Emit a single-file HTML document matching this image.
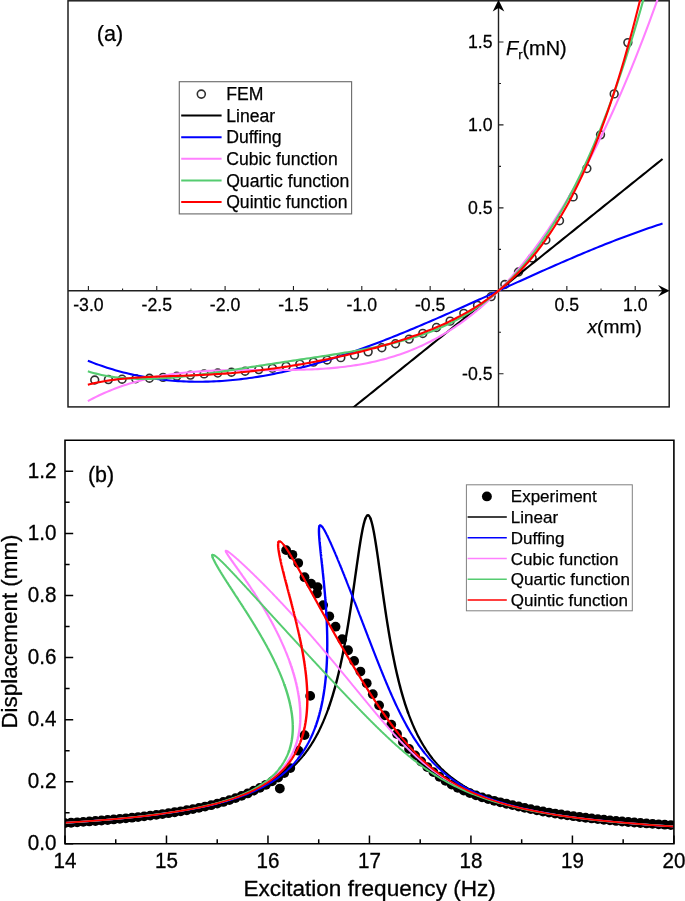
<!DOCTYPE html>
<html lang="en"><head><meta charset="utf-8"><title>Restoring force and frequency response</title>
<style>html,body{margin:0;padding:0;background:#fff}svg{display:block}</style></head>
<body>
<svg width="685" height="901" viewBox="0 0 685 901">
<rect width="685" height="901" fill="#fff"/>
<g id="panel-a">
<defs><clipPath id="clipA"><rect x="68" y="0" width="601.2" height="406.9"/></clipPath></defs>
<rect x="68" y="0.8" width="601.2" height="406.1" fill="none" stroke="#1f1f1f" stroke-width="1.5"/>
<path d="M68,290.8H666.2 M498.5,406.9V3.8" stroke="#1f1f1f" stroke-width="1.4" fill="none"/>
<path d="M669.6,290.8 l-11.5,-5.8 l4.2,5.8 l-4.2,5.8z" fill="#000"/>
<path d="M498.5,-0.2 l-5.8,11.6 l5.8,-3.3 l5.8,3.3z" fill="#000"/>
<path d="M88.4,290.8v-4.7M122.58,290.8v-2.4M156.75,290.8v-4.7M190.93,290.8v-2.4M225.1,290.8v-4.7M259.28,290.8v-2.4M293.45,290.8v-4.7M327.62,290.8v-2.4M361.8,290.8v-4.7M395.98,290.8v-2.4M430.15,290.8v-4.7M464.32,290.8v-2.4M532.67,290.8v-2.4M566.85,290.8v-4.7M601.02,290.8v-2.4M635.2,290.8v-4.7M498.5,373.75h5M498.5,332.28h2.5M498.5,249.33h2.5M498.5,207.85h5M498.5,166.38h2.5M498.5,124.9h5M498.5,83.43h2.5M498.5,41.95h5" stroke="#1f1f1f" stroke-width="1.1" fill="none"/>
<g font-family='"Liberation Sans", Arial, sans-serif' font-size="17.7" fill="#000" stroke="#000" stroke-width="0.25">
<text transform="translate(88.4,310.7) scale(1,1.06)" text-anchor="middle">-3.0</text>
<text transform="translate(156.75,310.7) scale(1,1.06)" text-anchor="middle">-2.5</text>
<text transform="translate(225.1,310.7) scale(1,1.06)" text-anchor="middle">-2.0</text>
<text transform="translate(293.45,310.7) scale(1,1.06)" text-anchor="middle">-1.5</text>
<text transform="translate(361.8,310.7) scale(1,1.06)" text-anchor="middle">-1.0</text>
<text transform="translate(430.15,310.7) scale(1,1.06)" text-anchor="middle">-0.5</text>
<text transform="translate(566.85,310.7) scale(1,1.06)" text-anchor="middle">0.5</text>
<text transform="translate(635.2,310.7) scale(1,1.06)" text-anchor="middle">1.0</text>
<text transform="translate(492.6,380.05) scale(1,1.06)" text-anchor="end">-0.5</text>
<text transform="translate(492.6,214.15) scale(1,1.06)" text-anchor="end">0.5</text>
<text transform="translate(492.6,131.2) scale(1,1.06)" text-anchor="end">1.0</text>
<text transform="translate(492.6,48.25) scale(1,1.06)" text-anchor="end">1.5</text>
</g>
<g clip-path="url(#clipA)" fill="none" stroke-linejoin="round">
<circle cx="94.74" cy="380.05" r="3.9" stroke="#303030" stroke-width="1.6"/>
<circle cx="108.41" cy="379.56" r="3.9" stroke="#303030" stroke-width="1.6"/>
<circle cx="122.08" cy="379.22" r="3.9" stroke="#303030" stroke-width="1.6"/>
<circle cx="135.75" cy="378.73" r="3.9" stroke="#303030" stroke-width="1.6"/>
<circle cx="149.42" cy="378.23" r="3.9" stroke="#303030" stroke-width="1.6"/>
<circle cx="163.08" cy="377.4" r="3.9" stroke="#303030" stroke-width="1.6"/>
<circle cx="176.75" cy="376.24" r="3.9" stroke="#303030" stroke-width="1.6"/>
<circle cx="190.43" cy="375.08" r="3.9" stroke="#303030" stroke-width="1.6"/>
<circle cx="204.1" cy="373.92" r="3.9" stroke="#303030" stroke-width="1.6"/>
<circle cx="217.77" cy="373.04" r="3.9" stroke="#303030" stroke-width="1.6"/>
<circle cx="231.44" cy="372.26" r="3.9" stroke="#303030" stroke-width="1.6"/>
<circle cx="245.11" cy="371.26" r="3.9" stroke="#303030" stroke-width="1.6"/>
<circle cx="258.78" cy="369.6" r="3.9" stroke="#303030" stroke-width="1.6"/>
<circle cx="272.45" cy="368.28" r="3.9" stroke="#303030" stroke-width="1.6"/>
<circle cx="286.12" cy="366.28" r="3.9" stroke="#303030" stroke-width="1.6"/>
<circle cx="299.79" cy="364.13" r="3.9" stroke="#303030" stroke-width="1.6"/>
<circle cx="313.46" cy="362.14" r="3.9" stroke="#303030" stroke-width="1.6"/>
<circle cx="327.12" cy="359.98" r="3.9" stroke="#303030" stroke-width="1.6"/>
<circle cx="340.8" cy="357.66" r="3.9" stroke="#303030" stroke-width="1.6"/>
<circle cx="354.47" cy="355.17" r="3.9" stroke="#303030" stroke-width="1.6"/>
<circle cx="368.13" cy="351.85" r="3.9" stroke="#303030" stroke-width="1.6"/>
<circle cx="381.81" cy="347.7" r="3.9" stroke="#303030" stroke-width="1.6"/>
<circle cx="395.48" cy="343.72" r="3.9" stroke="#303030" stroke-width="1.6"/>
<circle cx="409.14" cy="339.08" r="3.9" stroke="#303030" stroke-width="1.6"/>
<circle cx="422.81" cy="333.44" r="3.9" stroke="#303030" stroke-width="1.6"/>
<circle cx="436.49" cy="327.46" r="3.9" stroke="#303030" stroke-width="1.6"/>
<circle cx="450.16" cy="321.16" r="3.9" stroke="#303030" stroke-width="1.6"/>
<circle cx="463.82" cy="313.36" r="3.9" stroke="#303030" stroke-width="1.6"/>
<circle cx="477.5" cy="305.23" r="3.9" stroke="#303030" stroke-width="1.6"/>
<circle cx="491.17" cy="296.61" r="3.9" stroke="#303030" stroke-width="1.6"/>
<circle cx="504.83" cy="284.5" r="3.9" stroke="#303030" stroke-width="1.6"/>
<circle cx="518.5" cy="272.05" r="3.9" stroke="#303030" stroke-width="1.6"/>
<circle cx="532.17" cy="257.95" r="3.9" stroke="#303030" stroke-width="1.6"/>
<circle cx="545.85" cy="240.03" r="3.9" stroke="#303030" stroke-width="1.6"/>
<circle cx="559.51" cy="220.71" r="3.9" stroke="#303030" stroke-width="1.6"/>
<circle cx="573.18" cy="196.9" r="3.9" stroke="#303030" stroke-width="1.6"/>
<circle cx="586.86" cy="168.53" r="3.9" stroke="#303030" stroke-width="1.6"/>
<circle cx="600.52" cy="134.85" r="3.9" stroke="#303030" stroke-width="1.6"/>
<circle cx="614.19" cy="93.88" r="3.9" stroke="#303030" stroke-width="1.6"/>
<circle cx="627.87" cy="42.61" r="3.9" stroke="#303030" stroke-width="1.6"/>
<path d="M87.85,620.72L90.59,618.52L93.33,616.32L96.06,614.12L98.8,611.92L101.54,609.72L104.27,607.53L107.01,605.33L109.75,603.13L112.48,600.93L115.22,598.73L117.96,596.53L120.69,594.33L123.43,592.13L126.17,589.94L128.9,587.74L131.64,585.54L134.38,583.34L137.11,581.14L139.85,578.94L142.59,576.74L145.32,574.55L148.06,572.35L150.8,570.15L153.53,567.95L156.27,565.75L159,563.55L161.74,561.35L164.48,559.16L167.21,556.96L169.95,554.76L172.69,552.56L175.42,550.36L178.16,548.16L180.9,545.96L183.63,543.77L186.37,541.57L189.11,539.37L191.84,537.17L194.58,534.97L197.32,532.77L200.05,530.57L202.79,528.38L205.53,526.18L208.26,523.98L211,521.78L213.74,519.58L216.47,517.38L219.21,515.18L221.95,512.98L224.68,510.79L227.42,508.59L230.16,506.39L232.89,504.19L235.63,501.99L238.37,499.79L241.1,497.59L243.84,495.4L246.58,493.2L249.31,491L252.05,488.8L254.79,486.6L257.52,484.4L260.26,482.2L263,480.01L265.73,477.81L268.47,475.61L271.21,473.41L273.94,471.21L276.68,469.01L279.42,466.81L282.15,464.62L284.89,462.42L287.63,460.22L290.36,458.02L293.1,455.82L295.84,453.62L298.57,451.42L301.31,449.23L304.04,447.03L306.78,444.83L309.52,442.63L312.25,440.43L314.99,438.23L317.73,436.03L320.46,433.84L323.2,431.64L325.94,429.44L328.67,427.24L331.41,425.04L334.15,422.84L336.88,420.64L339.62,418.44L342.36,416.25L345.09,414.05L347.83,411.85L350.57,409.65L353.3,407.45L356.04,405.25L358.78,403.05L361.51,400.86L364.25,398.66L366.99,396.46L369.72,394.26L372.46,392.06L375.2,389.86L377.93,387.66L380.67,385.47L383.41,383.27L386.14,381.07L388.88,378.87L391.62,376.67L394.35,374.47L397.09,372.27L399.83,370.08L402.56,367.88L405.3,365.68L408.04,363.48L410.77,361.28L413.51,359.08L416.25,356.88L418.98,354.69L421.72,352.49L424.46,350.29L427.19,348.09L429.93,345.89L432.67,343.69L435.4,341.49L438.14,339.29L440.88,337.1L443.61,334.9L446.35,332.7L449.08,330.5L451.82,328.3L454.56,326.1L457.29,323.9L460.03,321.71L462.77,319.51L465.5,317.31L468.24,315.11L470.98,312.91L473.71,310.71L476.45,308.51L479.19,306.32L481.92,304.12L484.66,301.92L487.4,299.72L490.13,297.52L492.87,295.32L495.61,293.12L498.34,290.93L501.08,288.73L503.82,286.53L506.55,284.33L509.29,282.13L512.03,279.93L514.76,277.73L517.5,275.54L520.24,273.34L522.97,271.14L525.71,268.94L528.45,266.74L531.18,264.54L533.92,262.34L536.66,260.15L539.39,257.95L542.13,255.75L544.87,253.55L547.6,251.35L550.34,249.15L553.08,246.95L555.81,244.75L558.55,242.56L561.29,240.36L564.02,238.16L566.76,235.96L569.5,233.76L572.23,231.56L574.97,229.36L577.71,227.17L580.44,224.97L583.18,222.77L585.92,220.57L588.65,218.37L591.39,216.17L594.12,213.97L596.86,211.78L599.6,209.58L602.33,207.38L605.07,205.18L607.81,202.98L610.54,200.78L613.28,198.58L616.02,196.39L618.75,194.19L621.49,191.99L624.23,189.79L626.96,187.59L629.7,185.39L632.44,183.19L635.17,181L637.91,178.8L640.65,176.6L643.38,174.4L646.12,172.2L648.86,170L651.59,167.8L654.33,165.6L657.07,163.41L659.8,161.21L662.54,159.01" stroke="#000000" stroke-width="2.1"/>
<path d="M87.85,360.76L90.59,361.83L93.33,362.88L96.06,363.9L98.8,364.88L101.54,365.83L104.27,366.76L107.01,367.65L109.75,368.52L112.48,369.35L115.22,370.16L117.96,370.93L120.69,371.68L123.43,372.4L126.17,373.09L128.9,373.75L131.64,374.39L134.38,374.99L137.11,375.57L139.85,376.12L142.59,376.65L145.32,377.15L148.06,377.62L150.8,378.06L153.53,378.48L156.27,378.87L159,379.23L161.74,379.57L164.48,379.89L167.21,380.18L169.95,380.44L172.69,380.68L175.42,380.89L178.16,381.08L180.9,381.25L183.63,381.39L186.37,381.5L189.11,381.6L191.84,381.67L194.58,381.71L197.32,381.74L200.05,381.74L202.79,381.72L205.53,381.67L208.26,381.6L211,381.52L213.74,381.41L216.47,381.27L219.21,381.12L221.95,380.95L224.68,380.75L227.42,380.53L230.16,380.3L232.89,380.04L235.63,379.76L238.37,379.46L241.1,379.15L243.84,378.81L246.58,378.45L249.31,378.08L252.05,377.68L254.79,377.27L257.52,376.84L260.26,376.39L263,375.92L265.73,375.44L268.47,374.93L271.21,374.41L273.94,373.88L276.68,373.32L279.42,372.75L282.15,372.16L284.89,371.56L287.63,370.94L290.36,370.3L293.1,369.65L295.84,368.98L298.57,368.29L301.31,367.6L304.04,366.88L306.78,366.15L309.52,365.41L312.25,364.65L314.99,363.88L317.73,363.09L320.46,362.3L323.2,361.48L325.94,360.66L328.67,359.82L331.41,358.97L334.15,358.1L336.88,357.22L339.62,356.33L342.36,355.43L345.09,354.52L347.83,353.59L350.57,352.66L353.3,351.71L356.04,350.75L358.78,349.78L361.51,348.8L364.25,347.81L366.99,346.81L369.72,345.8L372.46,344.78L375.2,343.75L377.93,342.71L380.67,341.66L383.41,340.61L386.14,339.54L388.88,338.46L391.62,337.38L394.35,336.29L397.09,335.19L399.83,334.08L402.56,332.97L405.3,331.85L408.04,330.72L410.77,329.58L413.51,328.44L416.25,327.29L418.98,326.14L421.72,324.98L424.46,323.81L427.19,322.64L429.93,321.46L432.67,320.28L435.4,319.09L438.14,317.9L440.88,316.7L443.61,315.5L446.35,314.29L449.08,313.09L451.82,311.87L454.56,310.65L457.29,309.43L460.03,308.21L462.77,306.98L465.5,305.76L468.24,304.52L470.98,303.29L473.71,302.05L476.45,300.82L479.19,299.58L481.92,298.34L484.66,297.09L487.4,295.85L490.13,294.61L492.87,293.36L495.61,292.12L498.34,290.87L501.08,289.63L503.82,288.38L506.55,287.14L509.29,285.89L512.03,284.65L514.76,283.41L517.5,282.16L520.24,280.92L522.97,279.69L525.71,278.45L528.45,277.22L531.18,275.98L533.92,274.76L536.66,273.53L539.39,272.31L542.13,271.08L544.87,269.87L547.6,268.65L550.34,267.44L553.08,266.24L555.81,265.03L558.55,263.84L561.29,262.64L564.02,261.46L566.76,260.27L569.5,259.09L572.23,257.92L574.97,256.75L577.71,255.59L580.44,254.44L583.18,253.29L585.92,252.15L588.65,251.01L591.39,249.88L594.12,248.76L596.86,247.64L599.6,246.53L602.33,245.43L605.07,244.34L607.81,243.26L610.54,242.18L613.28,241.12L616.02,240.06L618.75,239.01L621.49,237.97L624.23,236.94L626.96,235.92L629.7,234.9L632.44,233.9L635.17,232.91L637.91,231.93L640.65,230.96L643.38,230L646.12,229.05L648.86,228.11L651.59,227.19L654.33,226.27L657.07,225.37L659.8,224.48L662.54,223.6" stroke="#0000ff" stroke-width="2.1"/>
<path d="M87.85,401.06L90.59,399.61L93.33,398.21L96.06,396.85L98.8,395.53L101.54,394.26L104.27,393.04L107.01,391.85L109.75,390.71L112.48,389.6L115.22,388.54L117.96,387.52L120.69,386.53L123.43,385.58L126.17,384.67L128.9,383.8L131.64,382.96L134.38,382.16L137.11,381.39L139.85,380.65L142.59,379.94L145.32,379.27L148.06,378.63L150.8,378.02L153.53,377.44L156.27,376.89L159,376.36L161.74,375.86L164.48,375.39L167.21,374.95L169.95,374.53L172.69,374.14L175.42,373.77L178.16,373.42L180.9,373.09L183.63,372.79L186.37,372.51L189.11,372.25L191.84,372L194.58,371.78L197.32,371.57L200.05,371.38L202.79,371.21L205.53,371.05L208.26,370.91L211,370.78L213.74,370.67L216.47,370.57L219.21,370.48L221.95,370.4L224.68,370.33L227.42,370.27L230.16,370.22L232.89,370.18L235.63,370.15L238.37,370.12L241.1,370.1L243.84,370.09L246.58,370.08L249.31,370.07L252.05,370.07L254.79,370.07L257.52,370.07L260.26,370.08L263,370.08L265.73,370.08L268.47,370.08L271.21,370.08L273.94,370.08L276.68,370.07L279.42,370.06L282.15,370.05L284.89,370.03L287.63,370L290.36,369.97L293.1,369.92L295.84,369.87L298.57,369.81L301.31,369.75L304.04,369.66L306.78,369.57L309.52,369.47L312.25,369.35L314.99,369.22L317.73,369.08L320.46,368.92L323.2,368.74L325.94,368.55L328.67,368.34L331.41,368.11L334.15,367.86L336.88,367.6L339.62,367.31L342.36,367L345.09,366.68L347.83,366.32L350.57,365.95L353.3,365.55L356.04,365.13L358.78,364.68L361.51,364.21L364.25,363.7L366.99,363.17L369.72,362.62L372.46,362.03L375.2,361.41L377.93,360.77L380.67,360.09L383.41,359.38L386.14,358.64L388.88,357.86L391.62,357.05L394.35,356.2L397.09,355.32L399.83,354.41L402.56,353.45L405.3,352.46L408.04,351.43L410.77,350.36L413.51,349.25L416.25,348.1L418.98,346.9L421.72,345.67L424.46,344.39L427.19,343.07L429.93,341.7L432.67,340.29L435.4,338.84L438.14,337.33L440.88,335.78L443.61,334.18L446.35,332.53L449.08,330.84L451.82,329.09L454.56,327.29L457.29,325.44L460.03,323.53L462.77,321.58L465.5,319.57L468.24,317.5L470.98,315.38L473.71,313.2L476.45,310.97L479.19,308.68L481.92,306.33L484.66,303.92L487.4,301.45L490.13,298.92L492.87,296.33L495.61,293.67L498.34,290.96L501.08,288.18L503.82,285.33L506.55,282.42L509.29,279.45L512.03,276.41L514.76,273.3L517.5,270.12L520.24,266.88L522.97,263.56L525.71,260.18L528.45,256.73L531.18,253.2L533.92,249.6L536.66,245.93L539.39,242.18L542.13,238.36L544.87,234.46L547.6,230.49L550.34,226.44L553.08,222.32L555.81,218.11L558.55,213.83L561.29,209.46L564.02,205.02L566.76,200.5L569.5,195.89L572.23,191.2L574.97,186.43L577.71,181.57L580.44,176.63L583.18,171.6L585.92,166.49L588.65,161.29L591.39,156L594.12,150.62L596.86,145.16L599.6,139.6L602.33,133.96L605.07,128.22L607.81,122.39L610.54,116.46L613.28,110.45L616.02,104.34L618.75,98.13L621.49,91.83L624.23,85.43L626.96,78.94L629.7,72.34L632.44,65.65L635.17,58.86L637.91,51.96L640.65,44.97L643.38,37.88L646.12,30.68L648.86,23.38L651.59,15.97L654.33,8.46L657.07,0.85L659.8,-6.87L662.54,-14.7" stroke="#ff80ff" stroke-width="2.1"/>
<path d="M87.85,371.36L90.59,372.17L93.33,372.93L96.06,373.64L98.8,374.29L101.54,374.9L104.27,375.46L107.01,375.96L109.75,376.43L112.48,376.85L115.22,377.22L117.96,377.56L120.69,377.85L123.43,378.11L126.17,378.33L128.9,378.51L131.64,378.66L134.38,378.78L137.11,378.87L139.85,378.92L142.59,378.94L145.32,378.94L148.06,378.91L150.8,378.86L153.53,378.77L156.27,378.67L159,378.54L161.74,378.39L164.48,378.23L167.21,378.04L169.95,377.83L172.69,377.61L175.42,377.36L178.16,377.11L180.9,376.84L183.63,376.55L186.37,376.25L189.11,375.94L191.84,375.62L194.58,375.29L197.32,374.94L200.05,374.59L202.79,374.23L205.53,373.86L208.26,373.48L211,373.1L213.74,372.71L216.47,372.32L219.21,371.92L221.95,371.51L224.68,371.11L227.42,370.7L230.16,370.28L232.89,369.87L235.63,369.45L238.37,369.03L241.1,368.6L243.84,368.18L246.58,367.76L249.31,367.33L252.05,366.91L254.79,366.49L257.52,366.06L260.26,365.64L263,365.22L265.73,364.79L268.47,364.37L271.21,363.95L273.94,363.53L276.68,363.11L279.42,362.7L282.15,362.28L284.89,361.87L287.63,361.45L290.36,361.04L293.1,360.63L295.84,360.22L298.57,359.81L301.31,359.4L304.04,358.99L306.78,358.58L309.52,358.17L312.25,357.75L314.99,357.34L317.73,356.93L320.46,356.52L323.2,356.1L325.94,355.68L328.67,355.26L331.41,354.84L334.15,354.41L336.88,353.98L339.62,353.55L342.36,353.11L345.09,352.66L347.83,352.21L350.57,351.75L353.3,351.28L356.04,350.81L358.78,350.33L361.51,349.83L364.25,349.33L366.99,348.82L369.72,348.29L372.46,347.76L375.2,347.21L377.93,346.64L380.67,346.07L383.41,345.47L386.14,344.86L388.88,344.23L391.62,343.58L394.35,342.92L397.09,342.23L399.83,341.52L402.56,340.79L405.3,340.03L408.04,339.25L410.77,338.44L413.51,337.61L416.25,336.75L418.98,335.86L421.72,334.94L424.46,333.98L427.19,333L429.93,331.97L432.67,330.92L435.4,329.82L438.14,328.69L440.88,327.51L443.61,326.3L446.35,325.04L449.08,323.74L451.82,322.39L454.56,321L457.29,319.56L460.03,318.06L462.77,316.52L465.5,314.92L468.24,313.26L470.98,311.55L473.71,309.78L476.45,307.95L479.19,306.06L481.92,304.11L484.66,302.09L487.4,300L490.13,297.84L492.87,295.61L495.61,293.31L498.34,290.94L501.08,288.49L503.82,285.96L506.55,283.34L509.29,280.65L512.03,277.87L514.76,275.01L517.5,272.06L520.24,269.01L522.97,265.88L525.71,262.65L528.45,259.32L531.18,255.89L533.92,252.36L536.66,248.73L539.39,244.99L542.13,241.14L544.87,237.19L547.6,233.11L550.34,228.93L553.08,224.63L555.81,220.2L558.55,215.66L561.29,210.99L564.02,206.19L566.76,201.26L569.5,196.21L572.23,191.01L574.97,185.68L577.71,180.21L580.44,174.59L583.18,168.83L585.92,162.93L588.65,156.87L591.39,150.66L594.12,144.29L596.86,137.77L599.6,131.08L602.33,124.23L605.07,117.21L607.81,110.02L610.54,102.66L613.28,95.12L616.02,87.4L618.75,79.51L621.49,71.42L624.23,63.15L626.96,54.69L629.7,46.04L632.44,37.19L635.17,28.14L637.91,18.88L640.65,9.42L643.38,-0.25L646.12,-10.13L648.86,-20.23L651.59,-30.54L654.33,-41.08L657.07,-51.85L659.8,-62.84L662.54,-74.06" stroke="#55cc70" stroke-width="2.1"/>
<path d="M87.85,384.7L90.59,384.01L93.33,383.36L96.06,382.76L98.8,382.2L101.54,381.68L104.27,381.2L107.01,380.75L109.75,380.34L112.48,379.96L115.22,379.6L117.96,379.28L120.69,378.97L123.43,378.7L126.17,378.44L128.9,378.21L131.64,377.99L134.38,377.79L137.11,377.61L139.85,377.44L142.59,377.28L145.32,377.14L148.06,377L150.8,376.88L153.53,376.76L156.27,376.65L159,376.54L161.74,376.44L164.48,376.35L167.21,376.25L169.95,376.16L172.69,376.07L175.42,375.97L178.16,375.88L180.9,375.79L183.63,375.69L186.37,375.59L189.11,375.49L191.84,375.38L194.58,375.27L197.32,375.15L200.05,375.03L202.79,374.9L205.53,374.76L208.26,374.62L211,374.47L213.74,374.31L216.47,374.15L219.21,373.97L221.95,373.79L224.68,373.6L227.42,373.4L230.16,373.18L232.89,372.96L235.63,372.73L238.37,372.49L241.1,372.24L243.84,371.98L246.58,371.71L249.31,371.43L252.05,371.14L254.79,370.84L257.52,370.53L260.26,370.21L263,369.88L265.73,369.54L268.47,369.19L271.21,368.82L273.94,368.45L276.68,368.07L279.42,367.67L282.15,367.27L284.89,366.86L287.63,366.44L290.36,366L293.1,365.56L295.84,365.11L298.57,364.65L301.31,364.17L304.04,363.69L306.78,363.2L309.52,362.7L312.25,362.19L314.99,361.67L317.73,361.15L320.46,360.61L323.2,360.06L325.94,359.51L328.67,358.94L331.41,358.37L334.15,357.78L336.88,357.19L339.62,356.59L342.36,355.98L345.09,355.36L347.83,354.73L350.57,354.09L353.3,353.44L356.04,352.78L358.78,352.11L361.51,351.43L364.25,350.74L366.99,350.04L369.72,349.32L372.46,348.6L375.2,347.87L377.93,347.12L380.67,346.36L383.41,345.59L386.14,344.8L388.88,344L391.62,343.19L394.35,342.36L397.09,341.52L399.83,340.66L402.56,339.79L405.3,338.9L408.04,337.99L410.77,337.06L413.51,336.11L416.25,335.15L418.98,334.16L421.72,333.15L424.46,332.12L427.19,331.06L429.93,329.98L432.67,328.88L435.4,327.74L438.14,326.58L440.88,325.39L443.61,324.17L446.35,322.92L449.08,321.63L451.82,320.31L454.56,318.95L457.29,317.56L460.03,316.13L462.77,314.65L465.5,313.14L468.24,311.58L470.98,309.97L473.71,308.31L476.45,306.61L479.19,304.85L481.92,303.04L484.66,301.18L487.4,299.25L490.13,297.27L492.87,295.22L495.61,293.11L498.34,290.93L501.08,288.68L503.82,286.35L506.55,283.96L509.29,281.48L512.03,278.93L514.76,276.29L517.5,273.56L520.24,270.74L522.97,267.84L525.71,264.83L528.45,261.73L531.18,258.53L533.92,255.22L536.66,251.8L539.39,248.26L542.13,244.62L544.87,240.85L547.6,236.96L550.34,232.94L553.08,228.78L555.81,224.5L558.55,220.07L561.29,215.5L564.02,210.78L566.76,205.91L569.5,200.88L572.23,195.68L574.97,190.33L577.71,184.8L580.44,179.09L583.18,173.2L585.92,167.13L588.65,160.86L591.39,154.4L594.12,147.74L596.86,140.86L599.6,133.78L602.33,126.47L605.07,118.94L607.81,111.19L610.54,103.19L613.28,94.95L616.02,86.46L618.75,77.72L621.49,68.72L624.23,59.44L626.96,49.9L629.7,40.07L632.44,29.95L635.17,19.54L637.91,8.83L640.65,-2.2L643.38,-13.54L646.12,-25.2L648.86,-37.2L651.59,-49.54L654.33,-62.22L657.07,-75.26L659.8,-88.66L662.54,-102.44" stroke="#ff0000" stroke-width="2.1"/>
</g>
<g font-family='"Liberation Sans", Arial, sans-serif' fill="#000" stroke="#000" stroke-width="0.25">
<text x="96.8" y="40.8" font-size="21.6">(a)</text>
<text x="506" y="54.5" font-size="19.9"><tspan font-style="italic">F</tspan><tspan font-size="13" dy="4">r</tspan><tspan dy="-4">(mN)</tspan></text>
<text x="587.5" y="333.1" font-size="19.2"><tspan font-style="italic">x</tspan>(mm)</text>
</g>
<rect x="179.3" y="81.7" width="172.3" height="132.2" fill="#fff" stroke="#6e6e6e" stroke-width="1.15"/>
<g font-family='"Liberation Sans", Arial, sans-serif' font-size="17.6" fill="#000" stroke="#000" stroke-width="0.25">
<circle cx="201.3" cy="94.1" r="4.0" fill="none" stroke="#303030" stroke-width="1.6"/>
<text x="226.2" y="100.1">FEM</text>
<path d="M181.2,115.6H221.6" stroke="#000000" stroke-width="2"/>
<text x="226.2" y="121.8">Linear</text>
<path d="M181.2,137.2H221.6" stroke="#0000ff" stroke-width="2"/>
<text x="226.2" y="143.4">Duffing</text>
<path d="M181.2,158.8H221.6" stroke="#ff80ff" stroke-width="2"/>
<text x="226.2" y="165">Cubic function</text>
<path d="M181.2,180.4H221.6" stroke="#55cc70" stroke-width="2"/>
<text x="226.2" y="186.6">Quartic function</text>
<path d="M181.2,202H221.6" stroke="#ff0000" stroke-width="2"/>
<text x="226.2" y="208.2">Quintic function</text>
</g>
</g>
<g id="panel-b">
<defs><clipPath id="clipB"><rect x="65" y="440.3" width="608.9" height="403.5"/></clipPath></defs>
<g clip-path="url(#clipB)">
<g fill="#000">
<circle cx="65" cy="823.12" r="4.9"/>
<circle cx="71.09" cy="822.73" r="4.9"/>
<circle cx="77.18" cy="822.32" r="4.9"/>
<circle cx="83.27" cy="821.9" r="4.9"/>
<circle cx="89.36" cy="821.46" r="4.9"/>
<circle cx="95.45" cy="820.99" r="4.9"/>
<circle cx="101.53" cy="820.51" r="4.9"/>
<circle cx="107.62" cy="820" r="4.9"/>
<circle cx="113.71" cy="819.47" r="4.9"/>
<circle cx="119.8" cy="818.91" r="4.9"/>
<circle cx="125.89" cy="818.32" r="4.9"/>
<circle cx="131.98" cy="817.71" r="4.9"/>
<circle cx="138.07" cy="817.06" r="4.9"/>
<circle cx="144.16" cy="816.37" r="4.9"/>
<circle cx="150.25" cy="815.64" r="4.9"/>
<circle cx="156.34" cy="814.87" r="4.9"/>
<circle cx="162.42" cy="814.06" r="4.9"/>
<circle cx="168.51" cy="813.19" r="4.9"/>
<circle cx="174.6" cy="812.27" r="4.9"/>
<circle cx="180.69" cy="811.28" r="4.9"/>
<circle cx="186.78" cy="810.23" r="4.9"/>
<circle cx="192.87" cy="809.1" r="4.9"/>
<circle cx="198.96" cy="807.89" r="4.9"/>
<circle cx="205.05" cy="806.58" r="4.9"/>
<circle cx="211.14" cy="805.17" r="4.9"/>
<circle cx="217.23" cy="803.63" r="4.9"/>
<circle cx="223.31" cy="801.96" r="4.9"/>
<circle cx="229.4" cy="800.13" r="4.9"/>
<circle cx="235.49" cy="798.12" r="4.9"/>
<circle cx="241.58" cy="795.89" r="4.9"/>
<circle cx="247.67" cy="793.42" r="4.9"/>
<circle cx="253.76" cy="790.64" r="4.9"/>
<circle cx="259.85" cy="787.89" r="4.9"/>
<circle cx="265.94" cy="784.83" r="4.9"/>
<circle cx="272.03" cy="781.4" r="4.9"/>
<circle cx="278.12" cy="777.52" r="4.9"/>
<circle cx="284.2" cy="773.12" r="4.9"/>
<circle cx="290.29" cy="768.08" r="4.9"/>
<circle cx="279.84" cy="788.55" r="4.9"/>
<circle cx="298.41" cy="750.68" r="4.9"/>
<circle cx="304.5" cy="735.16" r="4.9"/>
<circle cx="310.18" cy="695.89" r="4.9"/>
<circle cx="286.13" cy="550.16" r="4.9"/>
<circle cx="292.42" cy="554.82" r="4.9"/>
<circle cx="298.21" cy="563.04" r="4.9"/>
<circle cx="304.5" cy="577.17" r="4.9"/>
<circle cx="311.1" cy="583.68" r="4.9"/>
<circle cx="317.59" cy="587.1" r="4.9"/>
<circle cx="316.88" cy="593.46" r="4.9"/>
<circle cx="323.17" cy="605.1" r="4.9"/>
<circle cx="329.26" cy="616.28" r="4.9"/>
<circle cx="335.55" cy="626.68" r="4.9"/>
<circle cx="342.15" cy="639.25" r="4.9"/>
<circle cx="348.04" cy="650.27" r="4.9"/>
<circle cx="354.13" cy="660.97" r="4.9"/>
<circle cx="360.42" cy="671.53" r="4.9"/>
<circle cx="366.71" cy="683.32" r="4.9"/>
<circle cx="372.8" cy="694.19" r="4.9"/>
<circle cx="379.09" cy="705.36" r="4.9"/>
<circle cx="384.88" cy="715.29" r="4.9"/>
<circle cx="391.27" cy="724.61" r="4.9"/>
<circle cx="397.05" cy="734.01" r="4.9"/>
<circle cx="402.94" cy="741.91" r="4.9"/>
<circle cx="409.03" cy="748.95" r="4.9"/>
<circle cx="415.12" cy="755.48" r="4.9"/>
<circle cx="421.21" cy="761.51" r="4.9"/>
<circle cx="427.3" cy="767.05" r="4.9"/>
<circle cx="433.38" cy="772.11" r="4.9"/>
<circle cx="439.47" cy="776.73" r="4.9"/>
<circle cx="445.56" cy="780.89" r="4.9"/>
<circle cx="451.65" cy="784.56" r="4.9"/>
<circle cx="457.74" cy="787.79" r="4.9"/>
<circle cx="463.83" cy="790.64" r="4.9"/>
<circle cx="469.92" cy="793.15" r="4.9"/>
<circle cx="476.01" cy="795.38" r="4.9"/>
<circle cx="482.1" cy="797.36" r="4.9"/>
<circle cx="488.19" cy="799.15" r="4.9"/>
<circle cx="494.27" cy="800.78" r="4.9"/>
<circle cx="500.36" cy="802.3" r="4.9"/>
<circle cx="506.45" cy="803.73" r="4.9"/>
<circle cx="512.54" cy="805.12" r="4.9"/>
<circle cx="518.63" cy="806.49" r="4.9"/>
<circle cx="524.72" cy="807.87" r="4.9"/>
<circle cx="530.81" cy="809.16" r="4.9"/>
<circle cx="536.9" cy="810.37" r="4.9"/>
<circle cx="542.99" cy="811.51" r="4.9"/>
<circle cx="549.08" cy="812.57" r="4.9"/>
<circle cx="555.16" cy="813.56" r="4.9"/>
<circle cx="561.25" cy="814.5" r="4.9"/>
<circle cx="567.34" cy="815.38" r="4.9"/>
<circle cx="573.43" cy="816.21" r="4.9"/>
<circle cx="579.52" cy="817" r="4.9"/>
<circle cx="585.61" cy="817.74" r="4.9"/>
<circle cx="591.7" cy="818.45" r="4.9"/>
<circle cx="597.79" cy="819.12" r="4.9"/>
<circle cx="603.88" cy="819.75" r="4.9"/>
<circle cx="609.97" cy="820.36" r="4.9"/>
<circle cx="616.05" cy="820.93" r="4.9"/>
<circle cx="622.14" cy="821.48" r="4.9"/>
<circle cx="628.23" cy="822" r="4.9"/>
<circle cx="634.32" cy="822.5" r="4.9"/>
<circle cx="640.41" cy="822.98" r="4.9"/>
<circle cx="646.5" cy="823.44" r="4.9"/>
<circle cx="652.59" cy="823.87" r="4.9"/>
<circle cx="658.68" cy="824.29" r="4.9"/>
<circle cx="664.77" cy="824.7" r="4.9"/>
<circle cx="670.86" cy="825.08" r="4.9"/>
</g>
<g fill="none" stroke-linejoin="round" stroke-linecap="round">
<path d="M65,822.84L65.51,822.8L66.01,822.77L66.52,822.74L67.03,822.71L67.54,822.68L68.04,822.64L68.55,822.61L69.06,822.58L69.57,822.55L70.07,822.51L70.58,822.48L71.09,822.45L71.6,822.42L72.1,822.38L72.61,822.35L73.12,822.32L73.63,822.28L74.13,822.25L74.64,822.22L75.15,822.18L75.66,822.15L76.16,822.11L76.67,822.08L77.18,822.05L77.69,822.01L78.19,821.98L78.7,821.94L79.21,821.91L79.72,821.87L80.22,821.84L80.73,821.8L81.24,821.77L81.74,821.73L82.25,821.7L82.76,821.66L83.27,821.62L83.77,821.59L84.28,821.55L84.79,821.52L85.3,821.48L85.8,821.44L86.31,821.41L86.82,821.37L87.33,821.33L87.83,821.3L88.34,821.26L88.85,821.22L89.36,821.19L89.86,821.15L90.37,821.11L90.88,821.07L91.39,821.04L91.89,821L92.4,820.96L92.91,820.92L93.42,820.88L93.92,820.84L94.43,820.8L94.94,820.77L95.45,820.73L95.95,820.69L96.46,820.65L96.97,820.61L97.47,820.57L97.98,820.53L98.49,820.49L99,820.45L99.5,820.41L100.01,820.37L100.52,820.33L101.03,820.29L101.53,820.25L102.04,820.21L102.55,820.17L103.06,820.12L103.56,820.08L104.07,820.04L104.58,820L105.09,819.96L105.59,819.92L106.1,819.87L106.61,819.83L107.12,819.79L107.62,819.75L108.13,819.7L108.64,819.66L109.15,819.62L109.65,819.57L110.16,819.53L110.67,819.49L111.17,819.44L111.68,819.4L112.19,819.35L112.7,819.31L113.2,819.26L113.71,819.22L114.22,819.17L114.73,819.13L115.23,819.08L115.74,819.04L116.25,818.99L116.76,818.95L117.26,818.9L117.77,818.85L118.28,818.81L118.79,818.76L119.29,818.71L119.8,818.67L120.31,818.62L120.82,818.57L121.32,818.52L121.83,818.48L122.34,818.43L122.85,818.38L123.35,818.33L123.86,818.28L124.37,818.23L124.88,818.19L125.38,818.14L125.89,818.09L126.4,818.04L126.9,817.99L127.41,817.94L127.92,817.89L128.43,817.84L128.93,817.79L129.44,817.74L129.95,817.68L130.46,817.63L130.96,817.58L131.47,817.53L131.98,817.48L132.49,817.43L132.99,817.37L133.5,817.32L134.01,817.27L134.52,817.21L135.02,817.16L135.53,817.11L136.04,817.05L136.55,817L137.05,816.95L137.56,816.89L138.07,816.84L138.58,816.78L139.08,816.73L139.59,816.67L140.1,816.61L140.61,816.56L141.11,816.5L141.62,816.45L142.13,816.39L142.63,816.33L143.14,816.27L143.65,816.22L144.16,816.16L144.66,816.1L145.17,816.04L145.68,815.98L146.19,815.93L146.69,815.87L147.2,815.81L147.71,815.75L148.22,815.69L148.72,815.63L149.23,815.57L149.74,815.51L150.25,815.44L150.75,815.38L151.26,815.32L151.77,815.26L152.28,815.2L152.78,815.14L153.29,815.07L153.8,815.01L154.31,814.95L154.81,814.88L155.32,814.82L155.83,814.75L156.34,814.69L156.84,814.62L157.35,814.56L157.86,814.49L158.36,814.43L158.87,814.36L159.38,814.3L159.89,814.23L160.39,814.16L160.9,814.09L161.41,814.03L161.92,813.96L162.42,813.89L162.93,813.82L163.44,813.75L163.95,813.68L164.45,813.61L164.96,813.54L165.47,813.47L165.98,813.4L166.48,813.33L166.99,813.26L167.5,813.19L168.01,813.11L168.51,813.04L169.02,812.97L169.53,812.9L170.04,812.82L170.54,812.75L171.05,812.67L171.56,812.6L172.06,812.52L172.57,812.45L173.08,812.37L173.59,812.3L174.09,812.22L174.6,812.14L175.11,812.06L175.62,811.99L176.12,811.91L176.63,811.83L177.14,811.75L177.65,811.67L178.15,811.59L178.66,811.51L179.17,811.43L179.68,811.35L180.18,811.26L180.69,811.18L181.2,811.1L181.71,811.02L182.21,810.93L182.72,810.85L183.23,810.76L183.74,810.68L184.24,810.59L184.75,810.51L185.26,810.42L185.77,810.33L186.27,810.25L186.78,810.16L187.29,810.07L187.79,809.98L188.3,809.89L188.81,809.8L189.32,809.71L189.82,809.62L190.33,809.53L190.84,809.44L191.35,809.35L191.85,809.25L192.36,809.16L192.87,809.07L193.38,808.97L193.88,808.88L194.39,808.78L194.9,808.69L195.41,808.59L195.91,808.49L196.42,808.39L196.93,808.3L197.44,808.2L197.94,808.1L198.45,808L198.96,807.9L199.47,807.79L199.97,807.69L200.48,807.59L200.99,807.49L201.5,807.38L202,807.28L202.51,807.17L203.02,807.07L203.52,806.96L204.03,806.85L204.54,806.75L205.05,806.64L205.55,806.53L206.06,806.42L206.57,806.31L207.08,806.2L207.58,806.09L208.09,805.98L208.6,805.86L209.11,805.75L209.61,805.63L210.12,805.52L210.63,805.4L211.14,805.29L211.64,805.17L212.15,805.05L212.66,804.93L213.17,804.81L213.67,804.69L214.18,804.57L214.69,804.45L215.2,804.32L215.7,804.2L216.21,804.08L216.72,803.95L217.22,803.83L217.73,803.7L218.24,803.57L218.75,803.44L219.25,803.31L219.76,803.18L220.27,803.05L220.78,802.92L221.28,802.79L221.79,802.65L222.3,802.52L222.81,802.38L223.31,802.24L223.82,802.11L224.33,801.97L224.84,801.83L225.34,801.69L225.85,801.55L226.36,801.4L226.87,801.26L227.37,801.12L227.88,800.97L228.39,800.82L228.9,800.68L229.4,800.53L229.91,800.38L230.42,800.23L230.93,800.08L231.43,799.92L231.94,799.77L232.45,799.61L232.95,799.46L233.46,799.3L233.97,799.14L234.48,798.98L234.98,798.82L235.49,798.66L236,798.49L236.51,798.33L237.01,798.16L237.52,798L238.03,797.83L238.54,797.66L239.04,797.49L239.55,797.31L240.06,797.14L240.57,796.96L241.07,796.79L241.58,796.61L242.09,796.43L242.6,796.25L243.1,796.07L243.61,795.89L244.12,795.7L244.63,795.51L245.13,795.33L245.64,795.14L246.15,794.95L246.66,794.75L247.16,794.56L247.67,794.36L248.18,794.17L248.68,793.97L249.19,793.77L249.7,793.56L250.21,793.36L250.71,793.15L251.22,792.95L251.73,792.74L252.24,792.53L252.74,792.31L253.25,792.1L253.76,791.88L254.27,791.67L254.77,791.45L255.28,791.22L255.79,791L256.3,790.77L256.8,790.55L257.31,790.32L257.82,790.08L258.33,789.85L258.83,789.61L259.34,789.38L259.85,789.14L260.36,788.89L260.86,788.65L261.37,788.4L261.88,788.15L262.39,787.9L262.89,787.65L263.4,787.39L263.91,787.13L264.41,786.87L264.92,786.61L265.43,786.34L265.94,786.07L266.44,785.8L266.95,785.53L267.46,785.25L267.97,784.97L268.47,784.69L268.98,784.41L269.49,784.12L270,783.83L270.5,783.54L271.01,783.24L271.52,782.94L272.03,782.64L272.53,782.34L273.04,782.03L273.55,781.72L274.06,781.4" stroke="#000000" stroke-width="1.75"/>
<path d="M274.06,781.4L274.56,781.08L275.07,780.76L275.58,780.44L276.09,780.11L276.59,779.78L277.1,779.45L277.61,779.11L278.12,778.77L278.62,778.42L279.13,778.07L279.64,777.72L280.14,777.36L280.65,777L281.16,776.64L281.67,776.27L282.17,775.9L282.68,775.52L283.19,775.14L283.7,774.75L284.2,774.36L284.71,773.97L285.22,773.57L285.73,773.17L286.23,772.76L286.74,772.35L287.25,771.93L287.76,771.51L288.26,771.08L288.77,770.65L289.28,770.21L289.79,769.77L290.29,769.32L290.8,768.86L291.31,768.4L291.82,767.94L292.32,767.47L292.83,766.99L293.34,766.51L293.84,766.02L294.35,765.53L294.86,765.03L295.37,764.52L295.87,764L296.38,763.48L296.89,762.96L297.4,762.42L297.9,761.88L298.41,761.33L298.92,760.77L299.43,760.21L299.93,759.64L300.44,759.06L300.95,758.47L301.46,757.88L301.96,757.28L302.47,756.67L302.98,756.05L303.49,755.42L303.99,754.78" stroke="#000000" stroke-width="1.95"/>
<path d="M303.99,754.78L304.5,754.13L305.01,753.48L305.52,752.81L306.02,752.14L306.53,751.45L307.04,750.76L307.55,750.05L308.05,749.34L308.56,748.61L309.07,747.87L309.57,747.12L310.08,746.36L310.59,745.59L311.1,744.81L311.6,744.01L312.11,743.2L312.62,742.38L313.13,741.55L313.63,740.7L314.14,739.84L314.65,738.96L315.16,738.07L315.66,737.17L316.17,736.25L316.68,735.32L317.19,734.37L317.69,733.4L318.2,732.42L318.71,731.42L319.22,730.4L319.72,729.37L320.23,728.31L320.74,727.24L321.25,726.15L321.75,725.05L322.26,723.92L322.77,722.77L323.28,721.6L323.78,720.41L324.29,719.19L324.8,717.96L325.3,716.7L325.81,715.42L326.32,714.11L326.83,712.78L327.33,711.43L327.84,710.04L328.35,708.64" stroke="#000000" stroke-width="2.2"/>
<path d="M328.35,708.64L328.86,707.2L329.36,705.74L329.87,704.24L330.38,702.72L330.89,701.17L331.39,699.59L331.9,697.97L332.41,696.32L332.92,694.64L333.42,692.93L333.93,691.18L334.44,689.39L334.95,687.57L335.45,685.71L335.96,683.81L336.47,681.87L336.98,679.89L337.48,677.87L337.99,675.81L338.5,673.71L339,671.56L339.51,669.36L340.02,667.12L340.53,664.84L341.03,662.5L341.54,660.12L342.05,657.69L342.56,655.2L343.06,652.67L343.57,650.08L344.08,647.44L344.59,644.75L345.09,642.01L345.6,639.21L346.11,636.35L346.62,633.45L347.12,630.49L347.63,627.47L348.14,624.4L348.65,621.28L349.15,618.1L349.66,614.87L350.17,611.6L350.68,608.27L351.18,604.9L351.69,601.49L352.2,598.04L352.71,594.54L353.21,591.02L353.72,587.47L354.23,583.89L354.73,580.3L355.24,576.7L355.75,573.09L356.26,569.49L356.76,565.9L357.27,562.33L357.78,558.8L358.29,555.31L358.79,551.87L359.3,548.51L359.81,545.22L360.32,542.03L360.82,538.95L361.33,536L361.84,533.18L362.35,530.51L362.85,528.02L363.36,525.71L363.87,523.59L364.38,521.69L364.88,520.01L365.39,518.57" stroke="#000000" stroke-width="2.42"/>
<path d="M365.39,518.57L365.9,517.37L366.41,516.42L366.91,515.74" stroke="#000000" stroke-width="2.2"/>
<path d="M366.91,515.74L367.42,515.32" stroke="#000000" stroke-width="1.95"/>
<path d="M367.42,515.32L367.93,515.18L368.44,515.3" stroke="#000000" stroke-width="1.75"/>
<path d="M368.44,515.3L368.94,515.7" stroke="#000000" stroke-width="1.95"/>
<path d="M368.94,515.7L369.45,516.36L369.96,517.28L370.46,518.46" stroke="#000000" stroke-width="2.2"/>
<path d="M370.46,518.46L370.97,519.89L371.48,521.56L371.99,523.46L372.49,525.57L373,527.88L373.51,530.38L374.02,533.06L374.52,535.89L375.03,538.86L375.54,541.97L376.05,545.19L376.55,548.5L377.06,551.9L377.57,555.38L378.08,558.91L378.58,562.49L379.09,566.1L379.6,569.74L380.11,573.39L380.61,577.05L381.12,580.71L381.63,584.36L382.14,587.99L382.64,591.6L383.15,595.18L383.66,598.72L384.17,602.23L384.67,605.7L385.18,609.13L385.69,612.51L386.19,615.84L386.7,619.12L387.21,622.35L387.72,625.53L388.22,628.65L388.73,631.72L389.24,634.73L389.75,637.68L390.25,640.59L390.76,643.43L391.27,646.22L391.78,648.96L392.28,651.64L392.79,654.27L393.3,656.85L393.81,659.37L394.31,661.84L394.82,664.26L395.33,666.64L395.84,668.96L396.34,671.23L396.85,673.46L397.36,675.64L397.87,677.78L398.37,679.88L398.88,681.93L399.39,683.93L399.9,685.9L400.4,687.83L400.91,689.72L401.42,691.56L401.92,693.38L402.43,695.15L402.94,696.89L403.45,698.6L403.95,700.27L404.46,701.9L404.97,703.51L405.48,705.08L405.98,706.62L406.49,708.14L407,709.62L407.51,711.08L408.01,712.5" stroke="#000000" stroke-width="2.42"/>
<path d="M408.01,712.5L408.52,713.9L409.03,715.28L409.54,716.62L410.04,717.95L410.55,719.25L411.06,720.52L411.57,721.77L412.07,723L412.58,724.2L413.09,725.39L413.6,726.55L414.1,727.69L414.61,728.81L415.12,729.92L415.62,731L416.13,732.06L416.64,733.11L417.15,734.14L417.65,735.15L418.16,736.14L418.67,737.12L419.18,738.08L419.68,739.02L420.19,739.95L420.7,740.87L421.21,741.77L421.71,742.65L422.22,743.52L422.73,744.38L423.24,745.22L423.74,746.05L424.25,746.87L424.76,747.67L425.27,748.46L425.77,749.24L426.28,750.01L426.79,750.77L427.3,751.51L427.8,752.24L428.31,752.97L428.82,753.68L429.33,754.38L429.83,755.07L430.34,755.75L430.85,756.43L431.35,757.09L431.86,757.74" stroke="#000000" stroke-width="2.2"/>
<path d="M431.86,757.74L432.37,758.38L432.88,759.02L433.38,759.64L433.89,760.26L434.4,760.87L434.91,761.47L435.41,762.06L435.92,762.64L436.43,763.22L436.94,763.79L437.44,764.35L437.95,764.9L438.46,765.45L438.97,765.99L439.47,766.52L439.98,767.04L440.49,767.56L441,768.07L441.5,768.58L442.01,769.08L442.52,769.57L443.03,770.06L443.53,770.54L444.04,771.01L444.55,771.48L445.06,771.94L445.56,772.4L446.07,772.85L446.58,773.3L447.08,773.74L447.59,774.18L448.1,774.61L448.61,775.03L449.11,775.45L449.62,775.87L450.13,776.28L450.64,776.69L451.14,777.09L451.65,777.49L452.16,777.88L452.67,778.27L453.17,778.65L453.68,779.03L454.19,779.4L454.7,779.78L455.2,780.14L455.71,780.51L456.22,780.87L456.73,781.22L457.23,781.57L457.74,781.92L458.25,782.26L458.76,782.6L459.26,782.94L459.77,783.27L460.28,783.6L460.78,783.93L461.29,784.25L461.8,784.57" stroke="#000000" stroke-width="1.95"/>
<path d="M461.8,784.57L462.31,784.89L462.81,785.2L463.32,785.51L463.83,785.82L464.34,786.12L464.84,786.42L465.35,786.72L465.86,787.02L466.37,787.31L466.87,787.6L467.38,787.88L467.89,788.17L468.4,788.45L468.9,788.73L469.41,789L469.92,789.27L470.43,789.54L470.93,789.81L471.44,790.08L471.95,790.34L472.46,790.6L472.96,790.86L473.47,791.11L473.98,791.37L474.49,791.62L474.99,791.87L475.5,792.11L476.01,792.36L476.51,792.6L477.02,792.84L477.53,793.07L478.04,793.31L478.54,793.54L479.05,793.77L479.56,794L480.07,794.23L480.57,794.45L481.08,794.68L481.59,794.9L482.1,795.12L482.6,795.34L483.11,795.55L483.62,795.77L484.13,795.98L484.63,796.19L485.14,796.4L485.65,796.6L486.16,796.81L486.66,797.01L487.17,797.21L487.68,797.41L488.19,797.61L488.69,797.81L489.2,798L489.71,798.2L490.22,798.39L490.72,798.58L491.23,798.77L491.74,798.96L492.24,799.14L492.75,799.33L493.26,799.51L493.77,799.69L494.27,799.87L494.78,800.05L495.29,800.23L495.8,800.4L496.3,800.58L496.81,800.75L497.32,800.92L497.83,801.09L498.33,801.26L498.84,801.43L499.35,801.6L499.86,801.76L500.36,801.93L500.87,802.09L501.38,802.25L501.89,802.41L502.39,802.57L502.9,802.73L503.41,802.89L503.92,803.04L504.42,803.2L504.93,803.35L505.44,803.5L505.95,803.66L506.45,803.81L506.96,803.96L507.47,804.1L507.97,804.25L508.48,804.4L508.99,804.54L509.5,804.69L510,804.83L510.51,804.97L511.02,805.11L511.53,805.25L512.03,805.39L512.54,805.53L513.05,805.67L513.56,805.81L514.06,805.94L514.57,806.08L515.08,806.21L515.59,806.34L516.09,806.47L516.6,806.6L517.11,806.73L517.62,806.86L518.12,806.99L518.63,807.12L519.14,807.25L519.65,807.37L520.15,807.5L520.66,807.62L521.17,807.75L521.67,807.87L522.18,807.99L522.69,808.11L523.2,808.23L523.7,808.35L524.21,808.47L524.72,808.59L525.23,808.7L525.73,808.82L526.24,808.94L526.75,809.05L527.26,809.17L527.76,809.28L528.27,809.39L528.78,809.5L529.29,809.62L529.79,809.73L530.3,809.84L530.81,809.95L531.32,810.05L531.82,810.16L532.33,810.27L532.84,810.38L533.35,810.48L533.85,810.59L534.36,810.69L534.87,810.8L535.38,810.9L535.88,811L536.39,811.11L536.9,811.21L537.4,811.31L537.91,811.41L538.42,811.51L538.93,811.61L539.43,811.71L539.94,811.81L540.45,811.9L540.96,812L541.46,812.1L541.97,812.19L542.48,812.29L542.99,812.38L543.49,812.48L544,812.57L544.51,812.66L545.02,812.76L545.52,812.85L546.03,812.94L546.54,813.03L547.05,813.12L547.55,813.21L548.06,813.3L548.57,813.39L549.08,813.48L549.58,813.57L550.09,813.66L550.6,813.74L551.11,813.83L551.61,813.92L552.12,814L552.63,814.09L553.13,814.17L553.64,814.26L554.15,814.34L554.66,814.42L555.16,814.51L555.67,814.59L556.18,814.67L556.69,814.75L557.19,814.84L557.7,814.92L558.21,815L558.72,815.08L559.22,815.16L559.73,815.24L560.24,815.31L560.75,815.39L561.25,815.47L561.76,815.55L562.27,815.63L562.78,815.7L563.28,815.78L563.79,815.85L564.3,815.93L564.81,816.01L565.31,816.08L565.82,816.15L566.33,816.23L566.84,816.3L567.34,816.38L567.85,816.45L568.36,816.52L568.86,816.59L569.37,816.66L569.88,816.74L570.39,816.81L570.89,816.88L571.4,816.95L571.91,817.02L572.42,817.09L572.92,817.16L573.43,817.23L573.94,817.3L574.45,817.36L574.95,817.43L575.46,817.5L575.97,817.57L576.48,817.63L576.98,817.7L577.49,817.77L578,817.83L578.51,817.9L579.01,817.96L579.52,818.03L580.03,818.09L580.54,818.16L581.04,818.22L581.55,818.29L582.06,818.35L582.57,818.41L583.07,818.48L583.58,818.54L584.09,818.6L584.59,818.66L585.1,818.73L585.61,818.79L586.12,818.85L586.62,818.91L587.13,818.97L587.64,819.03L588.15,819.09L588.65,819.15L589.16,819.21L589.67,819.27L590.18,819.33L590.68,819.39L591.19,819.45L591.7,819.5L592.21,819.56L592.71,819.62L593.22,819.68L593.73,819.73L594.24,819.79L594.74,819.85L595.25,819.9L595.76,819.96L596.27,820.02L596.77,820.07L597.28,820.13L597.79,820.18L598.29,820.24L598.8,820.29L599.31,820.35L599.82,820.4L600.32,820.46L600.83,820.51L601.34,820.56L601.85,820.62L602.35,820.67L602.86,820.72L603.37,820.78L603.88,820.83L604.38,820.88L604.89,820.93L605.4,820.98L605.91,821.04L606.41,821.09L606.92,821.14L607.43,821.19L607.94,821.24L608.44,821.29L608.95,821.34L609.46,821.39L609.97,821.44L610.47,821.49L610.98,821.54L611.49,821.59L612,821.64L612.5,821.69L613.01,821.73L613.52,821.78L614.02,821.83L614.53,821.88L615.04,821.93L615.55,821.97L616.05,822.02L616.56,822.07L617.07,822.12L617.58,822.16L618.08,822.21L618.59,822.26L619.1,822.3L619.61,822.35L620.11,822.39L620.62,822.44L621.13,822.49L621.64,822.53L622.14,822.58L622.65,822.62L623.16,822.67L623.67,822.71L624.17,822.76L624.68,822.8L625.19,822.84L625.7,822.89L626.2,822.93L626.71,822.97L627.22,823.02L627.73,823.06L628.23,823.1L628.74,823.15L629.25,823.19L629.75,823.23L630.26,823.28L630.77,823.32L631.28,823.36L631.78,823.4L632.29,823.44L632.8,823.49L633.31,823.53L633.81,823.57L634.32,823.61L634.83,823.65L635.34,823.69L635.84,823.73L636.35,823.77L636.86,823.81L637.37,823.85L637.87,823.89L638.38,823.93L638.89,823.97L639.4,824.01L639.9,824.05L640.41,824.09L640.92,824.13L641.43,824.17L641.93,824.21L642.44,824.25L642.95,824.29L643.45,824.32L643.96,824.36L644.47,824.4L644.98,824.44L645.48,824.48L645.99,824.51L646.5,824.55L647.01,824.59L647.51,824.63L648.02,824.66L648.53,824.7L649.04,824.74L649.54,824.77L650.05,824.81L650.56,824.85L651.07,824.88L651.57,824.92L652.08,824.96L652.59,824.99L653.1,825.03L653.6,825.06L654.11,825.1L654.62,825.14L655.13,825.17L655.63,825.21L656.14,825.24L656.65,825.28L657.16,825.31L657.66,825.35L658.17,825.38L658.68,825.42L659.18,825.45L659.69,825.48L660.2,825.52L660.71,825.55L661.21,825.59L661.72,825.62L662.23,825.65L662.74,825.69L663.24,825.72L663.75,825.75L664.26,825.79L664.77,825.82L665.27,825.85L665.78,825.89L666.29,825.92L666.8,825.95L667.3,825.98L667.81,826.02L668.32,826.05L668.83,826.08L669.33,826.11L669.84,826.15L670.35,826.18L670.86,826.21L671.36,826.24L671.87,826.27L672.38,826.3L672.89,826.34L673.39,826.37L673.9,826.4" stroke="#000000" stroke-width="1.75"/>
<path d="M59.96,823.15L68.66,822.61L76.88,822.07L84.65,821.53L92.02,820.99L99.01,820.45L105.65,819.91L111.97,819.37L118,818.83L123.74,818.29L129.22,817.75L134.47,817.21L139.48,816.67L144.29,816.13L148.89,815.59L153.31,815.05L157.56,814.52L161.64,813.98L165.56,813.44L169.33,812.9L172.97,812.36L176.48,811.82L179.86,811.28L183.12,810.74L186.27,810.2L189.32,809.67L192.26,809.13L195.11,808.59L197.87,808.05L200.54,807.51L203.12,806.98L205.63,806.44L208.06,805.9L210.42,805.36L212.71,804.82L214.94,804.29L217.1,803.75L219.2,803.21L221.24,802.67L223.23,802.14L225.16,801.6L227.04,801.06L228.87,800.53L230.65,799.99L232.39,799.45L234.09,798.91L235.74,798.38L237.35,797.84L238.92,797.31L240.45,796.77L241.95,796.23L243.41,795.7L244.84,795.16L246.23,794.63L247.59,794.09L248.92,793.55L250.22,793.02L251.5,792.48L252.74,791.95L253.96,791.41L255.15,790.88L256.32,790.34L257.46,789.81L258.57,789.28L259.67,788.74L260.74,788.21L261.79,787.67L262.82,787.14L263.83,786.61L264.81,786.07L265.78,785.54L266.73,785L267.67,784.47L268.58,783.94L269.48,783.41L270.36,782.87L271.22,782.34" stroke="#0000ff" stroke-width="1.75"/>
<path d="M271.22,782.34L272.07,781.81L272.9,781.28L273.71,780.74L274.52,780.21L275.3,779.68L276.08,779.15L276.84,778.62L277.58,778.09L278.32,777.56L279.04,777.02L279.74,776.49L280.44,775.96L281.12,775.43L281.8,774.9L282.46,774.37L283.11,773.84L283.75,773.31L284.38,772.78L285,772.25L285.61,771.73L286.21,771.2L286.79,770.67L287.37,770.14L287.95,769.61L288.51,769.08L289.06,768.56L289.61,768.03L290.14,767.5L290.67,766.97L291.19,766.45L291.7,765.92L292.21,765.39L292.7,764.87L293.19,764.34L293.67,763.81L294.15,763.29L294.61,762.76L295.08,762.24L295.53,761.71L295.98,761.19L296.42,760.66L296.85,760.14L297.28,759.61L297.7,759.09L298.12,758.57" stroke="#0000ff" stroke-width="1.95"/>
<path d="M298.12,758.57L298.53,758.04L298.93,757.52L299.33,757L299.73,756.47L300.11,755.95L300.49,755.43L300.87,754.91L301.24,754.38L301.61,753.86L301.97,753.34L302.33,752.82L302.68,752.3L303.03,751.78L303.37,751.26L303.71,750.74L304.04,750.22L304.37,749.7L304.69,749.18L305.01,748.66L305.33,748.14L305.64,747.62L305.95,747.11L306.25,746.59L306.55,746.07L306.85,745.55L307.14,745.03L307.43,744.52L307.71,744L307.99,743.48L308.27,742.97L308.54,742.45L308.81,741.94L309.08,741.42L309.34,740.91L309.6,740.39L309.86,739.88L310.11,739.36L310.36,738.85L310.61,738.34L310.85,737.82L311.09,737.31L311.33,736.8L311.56,736.29L311.79,735.77L312.02,735.26L312.25,734.75L312.47,734.24L312.69,733.73L312.91,733.22L313.12,732.71L313.33,732.2L313.54,731.69L313.75,731.18L313.95,730.67L314.15,730.16L314.35,729.65L314.55,729.14L314.74,728.64L314.93,728.13L315.12,727.62L315.31,727.12L315.49,726.61L315.68,726.1" stroke="#0000ff" stroke-width="2.2"/>
<path d="M315.68,726.1L315.86,725.6L316.03,725.09L316.21,724.59L316.38,724.08L316.55,723.58L316.72,723.07L316.89,722.57L317.05,722.07L317.22,721.56L317.38,721.06L317.54,720.56L317.69,720.06L317.85,719.56L318,719.05L318.15,718.55L318.3,718.05L318.45,717.55L318.59,717.05L318.74,716.55L318.88,716.05L319.02,715.55L319.16,715.06L319.29,714.56L319.43,714.06L319.56,713.56L319.69,713.07L319.82,712.57L319.95,712.07L320.08,711.58L320.2,711.08L320.32,710.59L320.45,710.09L320.57,709.6L320.68,709.1L320.8,708.61L320.92,708.12L321.03,707.62L321.14,707.13L321.25,706.64L321.36,706.15L321.47,705.66L321.58,705.17L321.68,704.68L321.79,704.19L321.89,703.7L321.99,703.21L322.09,702.72L322.19,702.23L322.29,701.74L322.38,701.25L322.48,700.77L322.57,700.28L322.66,699.79L322.76,699.31L322.85,698.82L322.93,698.34L323.02,697.85L323.11,697.37L323.19,696.88L323.28,696.4L323.36,695.92L323.44,695.43L323.52,694.95L323.6,694.47L323.68,693.99L323.75,693.51L323.83,693.03L323.9,692.55L323.98,692.07L324.05,691.59L324.12,691.11L324.19,690.63L324.26,690.15L324.33,689.68L324.4,689.2L324.46,688.72L324.53,688.25L324.59,687.77L324.66,687.29L324.72,686.82L324.78,686.35L324.84,685.87L324.9,685.4L324.96,684.93L325.02,684.45L325.07,683.98L325.13,683.51L325.18,683.04L325.24,682.57L325.29,682.1L325.34,681.63L325.39,681.16L325.44,680.69L325.49,680.22L325.54,679.75L325.59,679.29L325.64,678.82L325.68,678.35L325.73,677.89L325.77,677.42L325.82,676.96L325.86,676.49L325.9,676.03L325.95,675.56L325.99,675.1L326.03,674.64L326.07,674.18L326.1,673.71L326.14,673.25L326.18,672.79L326.21,672.33L326.25,671.87L326.29,671.41L326.32,670.95L326.35,670.5L326.39,670.04L326.42,669.58L326.45,669.12L326.48,668.67L326.51,668.21L326.54,667.76L326.57,667.3L326.59,666.85L326.62,666.4L326.65,665.94L326.67,665.49L326.7,665.04L326.72,664.59L326.75,664.13L326.77,663.68L326.79,663.23L326.82,662.78L326.84,662.34L326.86,661.89L326.88,661.44L326.9,660.99L326.92,660.55L326.94,660.1L326.96,659.65L326.97,659.21L326.99,658.76L327.01,658.32L327.02,657.88L327.04,657.43L327.05,656.99L327.07,656.55L327.08,656.11L327.09,655.67L327.11,655.23L327.12,654.79L327.13,654.35L327.14,653.91L327.15,653.47L327.16,653.03L327.17,652.59L327.18,652.16L327.19,651.72L327.2,651.29L327.2,650.85L327.21,650.42L327.22,649.98L327.22,649.55L327.23,649.12L327.23,648.69L327.24,648.25L327.24,647.82L327.25,647.39L327.25,646.96L327.25,646.53L327.26,646.11L327.26,645.68L327.26,645.25L327.26,644.82L327.26,644.4L327.26,643.97L327.26,643.55L327.26,643.12L327.26,642.7L327.26,642.27L327.26,641.85L327.26,641.43L327.25,641.01L327.25,640.59L327.25,640.17L327.24,639.75L327.24,639.33L327.24,638.91L327.23,638.49L327.23,638.07L327.22,637.66L327.22,637.24L327.21,636.82L327.2,636.41L327.2,635.99L327.19,635.58L327.18,635.17L327.17,634.76L327.16,634.34L327.16,633.93L327.15,633.52L327.14,633.11L327.13,632.7L327.12,632.29L327.11,631.88L327.1,631.48L327.09,631.07L327.08,630.66L327.06,630.26L327.05,629.85L327.04,629.45L327.03,629.04L327.02,628.64L327,628.24L326.99,627.83L326.98,627.43L326.96,627.03L326.95,626.63L326.93,626.23L326.92,625.83L326.9,625.44L326.89,625.04L326.87,624.64L326.86,624.24L326.84,623.85L326.83,623.45L326.81,623.06L326.79,622.67L326.78,622.27L326.76,621.88L326.74,621.49L326.72,621.1L326.71,620.71L326.69,620.32L326.67,619.93L326.65,619.54L326.63,619.15L326.61,618.76L326.59,618.38L326.57,617.99L326.55,617.61L326.53,617.22L326.51,616.84L326.49,616.45L326.47,616.07L326.45,615.69L326.43,615.31L326.41,614.93L326.39,614.55L326.37,614.17L326.35,613.79L326.32,613.41L326.3,613.03L326.28,612.66L326.26,612.28L326.23,611.91L326.21,611.53L326.19,611.16L326.16,610.78L326.14,610.41L326.12,610.04L326.09,609.67L326.07,609.3L326.05,608.93L326.02,608.56L326,608.19L325.97,607.82L325.95,607.46L325.92,607.09L325.9,606.72L325.87,606.36L325.85,606L325.82,605.63L325.8,605.27L325.77,604.91L325.75,604.55L325.72,604.19L325.69,603.83L325.67,603.47L325.64,603.11L325.61,602.75L325.59,602.39L325.56,602.04L325.53,601.68L325.51,601.32L325.48,600.97L325.45,600.62L325.43,600.26L325.4,599.91L325.37,599.56L325.34,599.21L325.32,598.86L325.29,598.51L325.26,598.16L325.23,597.81L325.2,597.47L325.18,597.12L325.15,596.77L325.12,596.43L325.09,596.08L325.06,595.74L325.03,595.4L325,595.06L324.98,594.71L324.95,594.37L324.92,594.03L324.89,593.7L324.86,593.36L324.83,593.02L324.8,592.68L324.77,592.35L324.74,592.01L324.71,591.68L324.68,591.34L324.65,591.01L324.62,590.68L324.6,590.34L324.57,590.01L324.54,589.68L324.51,589.35L324.48,589.02L324.45,588.7L324.42,588.37L324.39,588.04L324.36,587.72L324.33,587.39L324.3,587.07L324.27,586.74L324.24,586.42L324.21,586.1L324.17,585.78L324.14,585.46L324.11,585.14L324.08,584.82L324.05,584.5L324.02,584.18L323.99,583.87L323.96,583.55L323.93,583.24L323.9,582.92L323.87,582.61L323.84,582.29L323.81,581.98L323.78,581.67L323.75,581.36L323.72,581.05L323.69,580.74L323.66,580.43L323.63,580.13L323.6,579.82L323.57,579.51L323.53,579.21L323.5,578.9L323.47,578.6L323.44,578.3L323.41,578L323.38,577.7L323.35,577.39L323.32,577.1L323.29,576.8L323.26,576.5L323.23,576.2L323.2,575.9L323.17,575.61L323.14,575.31L323.11,575.02L323.08,574.73L323.05,574.43L323.02,574.14L322.99,573.85L322.96,573.56L322.93,573.27L322.89,572.98L322.86,572.7L322.83,572.41L322.8,572.12L322.77,571.84L322.74,571.55L322.71,571.27L322.68,570.99L322.65,570.7L322.62,570.42L322.59,570.14L322.56,569.86L322.53,569.58L322.51,569.31L322.48,569.03L322.45,568.75L322.42,568.48L322.39,568.2L322.36,567.93L322.33,567.65L322.3,567.38L322.27,567.11L322.24,566.84L322.21,566.57L322.18,566.3L322.15,566.03L322.12,565.76L322.09,565.5L322.07,565.23L322.04,564.97L322.01,564.7L321.98,564.44L321.95,564.18L321.92,563.91L321.89,563.65L321.87,563.39L321.84,563.13L321.81,562.88L321.78,562.62L321.75,562.36L321.73,562.11L321.7,561.85L321.67,561.6L321.64,561.34L321.61,561.09L321.59,560.84L321.56,560.59L321.53,560.34L321.51,560.09L321.48,559.84L321.45,559.59L321.42,559.35L321.4,559.1L321.37,558.85L321.34,558.61L321.32,558.37L321.29,558.12L321.26,557.88L321.24,557.64L321.21,557.4L321.19,557.16L321.16,556.92L321.13,556.69L321.11,556.45L321.08,556.21L321.06,555.98L321.03,555.75L321.01,555.51L320.98,555.28L320.96,555.05L320.93,554.82L320.91,554.59L320.88,554.36L320.86,554.13L320.83,553.9L320.81,553.68L320.78,553.45L320.76,553.23L320.73,553L320.71,552.78L320.69,552.56L320.66,552.34L320.64,552.12L320.62,551.9L320.59,551.68L320.57,551.46L320.55,551.24L320.52,551.03L320.5,550.81L320.48,550.6L320.46,550.38L320.43,550.17L320.41,549.96L320.39,549.75L320.37,549.54L320.35,549.33L320.32,549.12L320.3,548.91L320.28,548.71L320.26,548.5L320.24,548.3L320.22,548.09L320.2,547.89L320.18,547.69L320.16,547.49L320.13,547.29L320.11,547.09L320.09,546.89L320.07,546.69L320.05,546.49L320.04,546.3L320.02,546.1L320,545.91L319.98,545.72L319.96,545.52L319.94,545.33L319.92,545.14L319.9,544.95L319.88,544.76L319.86,544.57L319.85,544.39L319.83,544.2L319.81,544.02L319.79,543.83L319.78,543.65L319.76,543.46L319.74,543.28L319.72,543.1L319.71,542.92L319.69,542.74L319.67,542.56L319.66,542.39L319.64,542.21L319.63,542.03L319.61,541.86L319.59,541.69L319.58,541.51L319.56,541.34L319.55,541.17L319.53,541L319.52,540.83L319.5,540.66L319.49,540.49L319.48,540.33L319.46,540.16L319.45,540L319.43,539.83L319.42,539.67L319.41,539.51L319.39,539.35L319.38,539.19L319.37,539.03L319.36,538.87L319.34,538.71L319.33,538.55L319.32,538.4L319.31,538.24L319.29,538.09L319.28,537.94L319.27,537.78L319.26,537.63L319.25,537.48L319.24,537.33L319.23,537.18L319.22,537.04L319.21,536.89L319.2,536.74L319.19,536.6L319.18,536.45L319.17,536.31L319.16,536.17L319.15,536.03L319.14,535.89L319.13,535.75L319.12,535.61L319.12,535.47L319.11,535.33L319.1,535.2L319.09,535.06L319.08,534.93L319.08,534.8L319.07,534.66L319.06,534.53L319.06,534.4L319.05,534.27L319.04,534.14L319.04,534.02L319.03,533.89L319.03,533.76L319.02,533.64L319.02,533.52L319.01,533.39L319.01,533.27L319,533.15L319,533.03L318.99,532.79L318.98,532.56L318.97,532.33L318.97,532.1L318.96,531.88L318.96,531.66L318.96,531.44L318.96,531.23L318.95,531.02L318.95,530.82L318.95,530.62L318.96,530.42L318.96,530.23L318.96,530.04L318.96,529.85L318.97,529.67L318.98,529.49L318.98,529.32L318.99,529.14L319,528.98L319.01,528.81L319.02,528.65L319.03,528.5L319.04,528.35L319.05,528.2L319.07,528.05L319.08,527.91L319.1,527.77L319.12,527.64L319.13,527.51L319.15,527.38L319.17,527.26L319.19,527.14L319.23,526.97L319.26,526.81L319.3,526.65L319.34,526.51L319.38,526.37L319.42,526.24" stroke="#0000ff" stroke-width="2.42"/>
<path d="M319.42,526.24L319.47,526.12L319.52,526.01L319.59,525.88L319.66,525.75L319.74,525.65" stroke="#0000ff" stroke-width="2.2"/>
<path d="M319.74,525.65L319.82,525.56L319.92,525.47" stroke="#0000ff" stroke-width="1.95"/>
<path d="M319.92,525.47L320.04,525.4L320.15,525.35L320.28,525.33L320.41,525.33L320.55,525.36L320.67,525.4L320.79,525.45L320.91,525.52" stroke="#0000ff" stroke-width="1.75"/>
<path d="M320.91,525.52L321.04,525.6L321.14,525.67L321.24,525.75L321.35,525.84L321.45,525.94L321.56,526.05L321.67,526.16L321.79,526.28L321.9,526.42L321.98,526.51L322.06,526.6L322.14,526.7L322.23,526.81" stroke="#0000ff" stroke-width="1.95"/>
<path d="M322.23,526.81L322.31,526.92L322.4,527.03L322.48,527.14L322.57,527.26L322.66,527.38L322.74,527.51L322.83,527.64L322.93,527.77L323.02,527.91L323.11,528.05L323.21,528.2L323.3,528.35L323.4,528.5L323.5,528.65L323.6,528.81L323.7,528.98L323.8,529.14L323.9,529.32L324,529.49L324.11,529.67L324.22,529.85L324.32,530.04L324.43,530.23L324.54,530.42L324.65,530.62L324.76,530.82L324.87,531.02L324.99,531.23L325.05,531.34L325.1,531.44L325.16,531.55L325.22,531.66L325.28,531.77L325.34,531.88L325.4,531.99L325.46,532.1L325.52,532.21L325.58,532.33L325.64,532.44L325.7,532.56L325.76,532.67L325.82,532.79L325.88,532.91L325.94,533.03L326,533.15L326.07,533.27L326.13,533.39L326.19,533.52L326.25,533.64L326.32,533.76L326.38,533.89L326.44,534.02L326.51,534.14L326.57,534.27L326.64,534.4L326.7,534.53L326.77,534.66L326.83,534.8L326.9,534.93L326.97,535.06L327.03,535.2L327.1,535.33L327.17,535.47L327.23,535.61L327.3,535.75L327.37,535.89L327.44,536.03L327.51,536.17L327.58,536.31L327.65,536.45L327.71,536.6L327.78,536.74L327.85,536.89L327.92,537.04L327.99,537.18L328.07,537.33L328.14,537.48L328.21,537.63L328.28,537.78L328.35,537.94L328.42,538.09L328.5,538.24L328.57,538.4L328.64,538.55L328.72,538.71L328.79,538.87L328.86,539.03L328.94,539.19L329.01,539.35L329.09,539.51L329.16,539.67L329.24,539.83L329.31,540L329.39,540.16L329.47,540.33L329.54,540.49L329.62,540.66L329.7,540.83L329.77,541L329.85,541.17L329.93,541.34L330.01,541.51L330.09,541.69L330.17,541.86L330.24,542.03L330.32,542.21L330.4,542.39L330.48,542.56L330.56,542.74L330.64,542.92L330.73,543.1L330.81,543.28L330.89,543.46L330.97,543.65L331.05,543.83L331.13,544.02L331.22,544.2L331.3,544.39L331.38,544.57L331.47,544.76L331.55,544.95L331.63,545.14L331.72,545.33L331.8,545.52L331.89,545.72L331.97,545.91L332.06,546.1L332.14,546.3L332.23,546.49L332.32,546.69L332.4,546.89L332.49,547.09L332.58,547.29L332.66,547.49L332.75,547.69L332.84,547.89L332.93,548.09L333.02,548.3L333.1,548.5L333.19,548.71L333.28,548.91L333.37,549.12L333.46,549.33L333.55,549.54L333.64,549.75L333.73,549.96L333.82,550.17L333.92,550.38L334.01,550.6L334.1,550.81L334.19,551.03L334.28,551.24L334.38,551.46L334.47,551.68L334.56,551.9L334.66,552.12L334.75,552.34L334.84,552.56L334.94,552.78L335.03,553L335.13,553.23L335.22,553.45L335.32,553.68L335.42,553.9L335.51,554.13L335.61,554.36L335.7,554.59L335.8,554.82L335.9,555.05L336,555.28L336.09,555.51L336.19,555.75L336.29,555.98L336.39,556.21L336.49,556.45L336.59,556.69L336.69,556.92L336.79,557.16L336.89,557.4L336.99,557.64L337.09,557.88L337.19,558.12L337.29,558.37L337.39,558.61L337.49,558.85L337.59,559.1L337.69,559.35L337.8,559.59L337.9,559.84L338,560.09L338.11,560.34L338.21,560.59L338.31,560.84L338.42,561.09L338.52,561.34L338.63,561.6L338.73,561.85L338.84,562.11L338.94,562.36L339.05,562.62L339.15,562.88L339.26,563.13L339.37,563.39L339.47,563.65L339.58,563.91L339.69,564.18L339.79,564.44L339.9,564.7L340.01,564.97L340.12,565.23L340.23,565.5L340.34,565.76L340.44,566.03L340.55,566.3L340.66,566.57L340.77,566.84L340.88,567.11L340.99,567.38L341.1,567.65L341.22,567.93L341.33,568.2L341.44,568.48L341.55,568.75L341.66,569.03L341.77,569.31L341.89,569.58L342,569.86L342.11,570.14L342.23,570.42L342.34,570.7L342.45,570.99L342.57,571.27L342.68,571.55L342.8,571.84L342.91,572.12L343.03,572.41L343.14,572.7L343.26,572.98L343.37,573.27L343.49,573.56L343.61,573.85L343.72,574.14L343.84,574.43L343.96,574.73L344.07,575.02L344.19,575.31L344.31,575.61L344.43,575.9L344.55,576.2L344.67,576.5L344.78,576.8L344.9,577.1L345.02,577.39L345.14,577.7L345.26,578L345.38,578.3L345.5,578.6L345.62,578.9L345.75,579.21L345.87,579.51L345.99,579.82L346.11,580.13L346.23,580.43L346.36,580.74L346.48,581.05L346.6,581.36L346.72,581.67L346.85,581.98L346.97,582.29L347.09,582.61L347.22,582.92L347.34,583.24L347.47,583.55L347.59,583.87L347.72,584.18L347.84,584.5L347.97,584.82L348.09,585.14L348.22,585.46L348.35,585.78L348.47,586.1L348.6,586.42L348.73,586.74L348.85,587.07L348.98,587.39L349.11,587.72L349.24,588.04L349.37,588.37L349.49,588.7L349.62,589.02L349.75,589.35L349.88,589.68L350.01,590.01L350.14,590.34L350.27,590.68L350.4,591.01L350.53,591.34L350.66,591.68L350.79,592.01L350.92,592.35L351.06,592.68L351.19,593.02L351.32,593.36L351.45,593.7L351.58,594.03L351.72,594.37L351.85,594.71L351.98,595.06L352.12,595.4L352.25,595.74L352.38,596.08L352.52,596.43L352.65,596.77L352.79,597.12L352.92,597.47L353.06,597.81L353.19,598.16L353.33,598.51L353.46,598.86L353.6,599.21L353.73,599.56L353.87,599.91L354.01,600.26L354.14,600.62L354.28,600.97L354.42,601.32L354.56,601.68L354.69,602.04L354.83,602.39L354.97,602.75L355.11,603.11L355.25,603.47L355.39,603.83L355.53,604.19L355.67,604.55L355.81,604.91L355.95,605.27L356.09,605.63L356.23,606L356.37,606.36L356.51,606.72L356.65,607.09L356.79,607.46L356.93,607.82L357.08,608.19L357.22,608.56L357.36,608.93L357.5,609.3L357.65,609.67L357.79,610.04L357.93,610.41L358.08,610.78L358.22,611.16L358.36,611.53L358.51,611.91L358.65,612.28L358.8,612.66L358.94,613.03L359.09,613.41L359.23,613.79L359.38,614.17L359.52,614.55L359.67,614.93L359.82,615.31L359.96,615.69L360.11,616.07L360.26,616.45L360.41,616.84L360.55,617.22L360.7,617.61L360.85,617.99L361,618.38L361.15,618.76L361.29,619.15L361.44,619.54L361.59,619.93L361.74,620.32L361.89,620.71L362.04,621.1L362.19,621.49L362.34,621.88L362.49,622.27L362.64,622.67L362.8,623.06L362.95,623.45L363.1,623.85L363.25,624.24L363.4,624.64L363.56,625.04L363.71,625.44L363.86,625.83L364.01,626.23L364.17,626.63L364.32,627.03L364.48,627.43L364.63,627.83L364.78,628.24L364.94,628.64L365.09,629.04L365.25,629.45L365.4,629.85L365.56,630.26L365.72,630.66L365.87,631.07L366.03,631.48L366.18,631.88L366.34,632.29L366.5,632.7L366.66,633.11L366.81,633.52L366.97,633.93L367.13,634.34L367.29,634.76L367.45,635.17L367.61,635.58L367.77,635.99L367.92,636.41L368.08,636.82L368.24,637.24L368.4,637.66L368.57,638.07L368.73,638.49L368.89,638.91L369.05,639.33L369.21,639.75L369.37,640.17L369.53,640.59L369.7,641.01L369.86,641.43L370.02,641.85L370.19,642.27L370.35,642.7L370.51,643.12L370.68,643.55L370.84,643.97L371.01,644.4L371.17,644.82L371.34,645.25L371.5,645.68L371.67,646.11L371.83,646.53L372,646.96L372.17,647.39L372.33,647.82L372.5,648.25L372.67,648.69L372.84,649.12L373,649.55L373.17,649.98L373.34,650.42L373.51,650.85L373.68,651.29L373.85,651.72L374.02,652.16L374.19,652.59L374.36,653.03L374.53,653.47L374.7,653.91L374.87,654.35L375.04,654.79L375.22,655.23L375.39,655.67L375.56,656.11L375.74,656.55L375.91,656.99L376.08,657.43L376.26,657.88L376.43,658.32L376.61,658.76L376.78,659.21L376.96,659.65L377.13,660.1L377.31,660.55L377.49,660.99L377.66,661.44L377.84,661.89L378.02,662.34L378.19,662.78L378.37,663.23L378.55,663.68L378.73,664.13L378.91,664.59L379.09,665.04L379.27,665.49L379.45,665.94L379.63,666.4L379.81,666.85L379.99,667.3L380.18,667.76L380.36,668.21L380.54,668.67L380.73,669.12L380.91,669.58L381.09,670.04L381.28,670.5L381.46,670.95L381.65,671.41L381.83,671.87L382.02,672.33L382.21,672.79L382.39,673.25L382.58,673.71L382.77,674.18L382.96,674.64L383.15,675.1L383.34,675.56L383.53,676.03L383.72,676.49L383.91,676.96L384.1,677.42L384.29,677.89L384.48,678.35L384.68,678.82L384.87,679.29L385.06,679.75L385.26,680.22L385.45,680.69L385.65,681.16L385.84,681.63L386.04,682.1L386.23,682.57L386.43,683.04L386.63,683.51L386.83,683.98L387.03,684.45L387.23,684.93L387.43,685.4L387.63,685.87L387.83,686.35L388.03,686.82L388.23,687.29L388.44,687.77L388.64,688.25L388.84,688.72L389.05,689.2L389.25,689.68L389.46,690.15L389.67,690.63L389.87,691.11L390.08,691.59L390.29,692.07L390.5,692.55L390.71,693.03L390.92,693.51L391.13,693.99L391.34,694.47L391.56,694.95L391.77,695.43L391.98,695.92L392.2,696.4L392.41,696.88L392.63,697.37L392.85,697.85L393.07,698.34L393.28,698.82L393.5,699.31L393.72,699.79L393.94,700.28L394.17,700.77L394.39,701.25L394.61,701.74L394.84,702.23L395.06,702.72L395.29,703.21L395.52,703.7L395.74,704.19L395.97,704.68L396.2,705.17L396.43,705.66L396.66,706.15L396.9,706.64L397.13,707.13L397.36,707.62L397.6,708.12L397.84,708.61L398.07,709.1L398.31,709.6L398.55,710.09L398.79,710.59L399.03,711.08L399.27,711.58L399.52,712.07L399.76,712.57L400.01,713.07L400.26,713.56L400.5,714.06L400.75,714.56L401,715.06L401.26,715.55L401.51,716.05L401.76,716.55L402.02,717.05L402.27,717.55L402.53,718.05L402.79,718.55L403.05,719.05L403.31,719.56L403.58,720.06L403.84,720.56L404.11,721.06L404.37,721.56L404.64,722.07L404.91,722.57L405.19,723.07L405.46,723.58L405.73,724.08L406.01,724.59L406.29,725.09L406.57,725.6L406.85,726.1L407.13,726.61L407.42,727.12L407.7,727.62L407.99,728.13L408.28,728.64L408.57,729.14L408.86,729.65L409.16,730.16L409.45,730.67L409.75,731.18L410.05,731.69L410.36,732.2L410.66,732.71L410.97,733.22L411.28,733.73L411.59,734.24L411.9,734.75L412.21,735.26L412.53,735.77L412.85,736.29L413.17,736.8L413.49,737.31L413.82,737.82L414.15,738.34L414.48,738.85L414.81,739.36L415.15,739.88L415.49,740.39L415.83,740.91L416.17,741.42L416.51,741.94L416.86,742.45L417.21,742.97L417.57,743.48L417.92,744L418.28,744.52L418.65,745.03L419.01,745.55L419.38,746.07L419.75,746.59L420.13,747.11L420.5,747.62L420.88,748.14L421.27,748.66L421.66,749.18L422.05,749.7L422.44,750.22L422.84,750.74L423.24,751.26L423.65,751.78L424.05,752.3" stroke="#0000ff" stroke-width="2.2"/>
<path d="M424.05,752.3L424.47,752.82L424.88,753.34L425.3,753.86L425.73,754.38L426.16,754.91L426.59,755.43L427.03,755.95L427.47,756.47L427.91,757L428.36,757.52L428.82,758.04L429.28,758.57L429.74,759.09L430.21,759.61L430.68,760.14L431.16,760.66L431.65,761.19L432.14,761.71L432.63,762.24L433.13,762.76L433.64,763.29L434.15,763.81L434.67,764.34L435.19,764.87L435.72,765.39L436.25,765.92L436.8,766.45L437.34,766.97L437.9,767.5L438.46,768.03L439.03,768.56L439.6,769.08L440.19,769.61L440.78,770.14L441.37,770.67L441.98,771.2L442.59,771.73L443.21,772.25L443.84,772.78L444.48,773.31L445.13,773.84L445.78,774.37L446.45,774.9L447.12,775.43L447.8,775.96L448.49,776.49L449.2,777.02L449.91,777.56L450.63,778.09L451.37,778.62L452.11,779.15L452.87,779.68L453.63,780.21L454.41,780.74L455.2,781.28L456.01,781.81L456.82,782.34L457.65,782.87L458.49,783.41" stroke="#0000ff" stroke-width="1.95"/>
<path d="M458.49,783.41L459.35,783.94L460.22,784.47L461.11,785L462.01,785.54L462.92,786.07L463.85,786.61L464.8,787.14L465.76,787.67L466.75,788.21L467.74,788.74L468.76,789.28L469.8,789.81L470.85,790.34L471.93,790.88L473.02,791.41L474.14,791.95L475.28,792.48L476.44,793.02L477.62,793.55L478.83,794.09L480.06,794.63L481.32,795.16L482.61,795.7L483.92,796.23L485.26,796.77L486.62,797.31L488.02,797.84L489.45,798.38L490.91,798.91L492.41,799.45L493.94,799.99L495.51,800.53L497.11,801.06L498.75,801.6L500.43,802.14L502.15,802.67L503.92,803.21L505.73,803.75L507.59,804.29L509.49,804.82L511.45,805.36L513.46,805.9L515.52,806.44L517.64,806.98L519.82,807.51L522.06,808.05L524.37,808.59L526.75,809.13L529.19,809.67L531.71,810.2L534.31,810.74L536.99,811.28L539.75,811.82L542.61,812.36L545.56,812.9L548.6,813.44L551.75,813.98L555.02,814.52L558.39,815.05L561.89,815.59L565.52,816.13L569.28,816.67L573.19,817.21L577.25,817.75L581.47,818.29L585.87,818.83L590.44,819.37L595.21,819.91L600.19,820.45L605.39,820.99L610.82,821.53L616.51,822.07L622.47,822.61L628.72,823.15L635.28,823.69L642.18,824.23L649.45,824.77L657.11,825.31L665.19,825.85L673.75,826.39L682.81,826.93" stroke="#0000ff" stroke-width="1.75"/>
<path d="M60.3,823.09L68.23,822.59L75.75,822.1L82.89,821.6L89.69,821.11L96.17,820.61L102.34,820.12L108.24,819.62L113.87,819.13L119.26,818.63L124.42,818.14L129.37,817.64L134.11,817.15L138.67,816.65L143.04,816.16L147.25,815.66L151.3,815.17L155.2,814.68L158.96,814.18L162.58,813.69L166.07,813.19L169.45,812.7L172.71,812.2L175.85,811.71L178.9,811.22L181.84,810.72L184.7,810.23L187.46,809.73L190.13,809.24L192.73,808.75L195.24,808.25L197.68,807.76L200.05,807.27L202.34,806.77L204.58,806.28L206.75,805.79L208.85,805.29L210.9,804.8L212.9,804.31L214.84,803.81L216.72,803.32L218.56,802.83L220.35,802.34L222.1,801.84L223.79,801.35L225.45,800.86L227.06,800.37L228.64,799.87L230.17,799.38L231.67,798.89L233.13,798.4L234.56,797.91L235.95,797.42L237.31,796.92L238.64,796.43L239.94,795.94L241.21,795.45L242.45,794.96L243.66,794.47L244.84,793.98L246,793.49L247.13,793L248.24,792.51L249.32,792.02L250.39,791.53L251.42,791.04L252.44,790.55L253.43,790.06L254.41,789.57L255.36,789.08L256.29,788.59L257.21,788.1L258.1,787.61L258.98,787.12L259.84,786.63L260.68,786.14L261.51,785.66L262.32,785.17L263.11,784.68" stroke="#ff80ff" stroke-width="1.75"/>
<path d="M263.11,784.68L263.89,784.19L264.65,783.7L265.4,783.22L266.13,782.73L266.85,782.24L267.55,781.75L268.24,781.27L268.92,780.78L269.59,780.29L270.24,779.81L270.88,779.32L271.51,778.83L272.12,778.35L272.73,777.86L273.32,777.38L273.9,776.89L274.47,776.41L275.03,775.92L275.58,775.44L276.12,774.95L276.65,774.47L277.18,773.98L277.69,773.5L278.19,773.01L278.68,772.53L279.16,772.05L279.64,771.56L280.1,771.08L280.56,770.6L281.01,770.11L281.45,769.63L281.89,769.15L282.31,768.67L282.73,768.18L283.14,767.7L283.54,767.22L283.94,766.74L284.32,766.26L284.7,765.78" stroke="#ff80ff" stroke-width="1.95"/>
<path d="M284.7,765.78L285.08,765.3L285.45,764.82L285.81,764.34L286.16,763.85L286.51,763.37L286.85,762.9L287.18,762.42L287.51,761.94L287.83,761.46L288.15,760.98L288.46,760.5L288.77,760.02L289.07,759.54L289.36,759.06L289.65,758.59L289.93,758.11L290.21,757.63L290.48,757.16L290.75,756.68L291.01,756.2L291.27,755.73L291.52,755.25L291.77,754.77L292.01,754.3L292.25,753.82L292.48,753.35L292.71,752.87L292.94,752.4L293.16,751.92L293.37,751.45L293.58,750.98L293.79,750.5L293.99,750.03L294.19,749.56L294.39,749.08L294.58,748.61L294.76,748.14L294.95,747.67L295.13,747.19L295.3,746.72L295.47,746.25" stroke="#ff80ff" stroke-width="2.2"/>
<path d="M295.47,746.25L295.64,745.78L295.8,745.31L295.96,744.84L296.12,744.37L296.27,743.9L296.42,743.43L296.57,742.96L296.71,742.49L296.85,742.02L296.99,741.55L297.12,741.08L297.25,740.62L297.38,740.15L297.5,739.68L297.62,739.21L297.74,738.75L297.85,738.28L297.96,737.82L298.07,737.35L298.18,736.88L298.28,736.42L298.38,735.95L298.48,735.49L298.57,735.02L298.66,734.56L298.75,734.1L298.84,733.63L298.92,733.17L299,732.71L299.08,732.24L299.15,731.78L299.22,731.32L299.29,730.86L299.36,730.4L299.43,729.94L299.49,729.48L299.55,729.02L299.61,728.56L299.66,728.1L299.72,727.64L299.77,727.18L299.81,726.72L299.86,726.26L299.9,725.8L299.95,725.34L299.99,724.89L300.02,724.43L300.06,723.97L300.09,723.52L300.12,723.06L300.15,722.6L300.18,722.15L300.2,721.69L300.22,721.24L300.24,720.79L300.26,720.33L300.28,719.88L300.29,719.42L300.31,718.97L300.32,718.52L300.33,718.07L300.33,717.61L300.34,717.16L300.34,716.71L300.34,716.26L300.34,715.81L300.34,715.36L300.34,714.91L300.33,714.46L300.32,714.01L300.31,713.56L300.3,713.12L300.29,712.67L300.27,712.22L300.26,711.77L300.24,711.33L300.22,710.88L300.2,710.43L300.18,709.99L300.15,709.54L300.13,709.1L300.1,708.65L300.07,708.21L300.04,707.77L300.01,707.32L299.97,706.88L299.94,706.44L299.9,705.99L299.87,705.55L299.83,705.11L299.78,704.67L299.74,704.23L299.7,703.79L299.65,703.35L299.61,702.91L299.56,702.47L299.51,702.03L299.46,701.59L299.41,701.16L299.35,700.72L299.3,700.28L299.24,699.85L299.18,699.41L299.12,698.97L299.06,698.54L299,698.1L298.94,697.67L298.88,697.24L298.81,696.8L298.75,696.37L298.68,695.94L298.61,695.5L298.54,695.07L298.47,694.64L298.39,694.21L298.32,693.78L298.25,693.35L298.17,692.92L298.09,692.49L298.02,692.06L297.94,691.63L297.86,691.2L297.77,690.78L297.69,690.35L297.61,689.92L297.52,689.5L297.44,689.07L297.35,688.64L297.26,688.22L297.17,687.79L297.08,687.37L296.99,686.95L296.9,686.52L296.81,686.1L296.71,685.68L296.62,685.26L296.52,684.84L296.42,684.41L296.32,683.99L296.22,683.57L296.12,683.15L296.02,682.74L295.92,682.32L295.82,681.9L295.71,681.48L295.61,681.06L295.5,680.65L295.4,680.23L295.29,679.82L295.18,679.4L295.07,678.98L294.96,678.57L294.85,678.16L294.74,677.74L294.63,677.33L294.51,676.92L294.4,676.51L294.28,676.09L294.17,675.68L294.05,675.27L293.93,674.86L293.81,674.45L293.69,674.04L293.57,673.64L293.45,673.23L293.33,672.82L293.21,672.41L293.08,672.01L292.96,671.6L292.84,671.19L292.71,670.79L292.58,670.38L292.46,669.98L292.33,669.58L292.2,669.17L292.07,668.77L291.94,668.37L291.81,667.97L291.68,667.57L291.55,667.17L291.41,666.77L291.28,666.37L291.15,665.97L291.01,665.57L290.88,665.17L290.74,664.77L290.6,664.38L290.47,663.98L290.33,663.58L290.19,663.19L290.05,662.79L289.91,662.4" stroke="#ff80ff" stroke-width="2.42"/>
<path d="M289.91,662.4L289.77,662L289.63,661.61L289.49,661.22L289.35,660.83L289.2,660.43L289.06,660.04L288.92,659.65L288.77,659.26L288.63,658.87L288.48,658.48L288.33,658.1L288.19,657.71L288.04,657.32L287.89,656.93L287.74,656.55L287.59,656.16L287.44,655.78L287.29,655.39L287.14,655.01L286.99,654.62L286.84,654.24L286.69,653.86L286.54,653.48L286.38,653.09L286.23,652.71L286.08,652.33L285.92,651.95L285.77,651.57L285.61,651.19L285.45,650.82L285.3,650.44L285.14,650.06L284.98,649.69L284.83,649.31L284.67,648.93L284.51,648.56L284.35,648.19L284.19,647.81L284.03,647.44L283.87,647.07L283.71,646.69L283.55,646.32L283.39,645.95L283.23,645.58L283.06,645.21L282.9,644.84L282.74,644.48L282.58,644.11L282.41,643.74L282.25,643.37L282.08,643.01L281.92,642.64L281.75,642.28L281.59,641.91L281.42,641.55L281.26,641.19L281.09,640.82L280.92,640.46L280.76,640.1L280.59,639.74L280.42,639.38L280.25,639.02L280.08,638.66L279.92,638.3L279.75,637.94L279.58,637.59L279.41,637.23L279.24,636.87L279.07,636.52L278.9,636.16L278.73,635.81L278.56,635.46L278.38,635.1L278.21,634.75L278.04,634.4L277.87,634.05L277.7,633.7L277.52,633.35L277.35,633L277.18,632.65L277.01,632.3L276.83,631.95L276.66,631.61L276.49,631.26L276.31,630.92L276.14,630.57L275.96,630.23L275.79,629.88L275.61,629.54L275.44,629.2L275.26,628.86L275.09,628.51L274.91,628.17L274.74,627.83L274.56,627.49L274.39,627.16L274.21,626.82L274.03,626.48L273.86,626.14L273.68,625.81L273.5,625.47L273.33,625.14L273.15,624.8L272.97,624.47L272.79,624.14L272.62,623.8L272.44,623.47L272.26,623.14L272.08,622.81L271.91,622.48L271.73,622.15L271.55,621.82L271.37,621.5L271.19,621.17L271.02,620.84L270.84,620.52L270.66,620.19L270.48,619.87L270.3,619.54L270.12,619.22L269.95,618.9L269.77,618.57L269.59,618.25L269.41,617.93L269.23,617.61L269.05,617.29L268.87,616.98L268.69,616.66L268.51,616.34L268.33,616.02L268.16,615.71L267.98,615.39L267.8,615.08L267.62,614.76L267.44,614.45L267.26,614.14L267.08,613.83L266.9,613.51L266.72,613.2L266.54,612.89L266.36,612.58L266.18,612.28L266,611.97L265.83,611.66L265.65,611.35L265.47,611.05L265.29,610.74L265.11,610.44L264.93,610.14L264.75,609.83L264.57,609.53L264.39,609.23L264.21,608.93L264.04,608.63L263.86,608.33L263.68,608.03L263.5,607.73L263.32,607.43L263.14,607.14L262.96,606.84L262.79,606.54L262.61,606.25L262.43,605.96L262.25,605.66L262.07,605.37L261.9,605.08L261.72,604.79L261.54,604.49L261.36,604.21L261.19,603.92L261.01,603.63L260.83,603.34L260.66,603.05L260.48,602.77L260.3,602.48L260.13,602.2L259.95,601.91L259.77,601.63L259.6,601.34L259.42,601.06L259.25,600.78L259.07,600.5L258.89,600.22L258.72,599.94L258.54,599.66L258.37,599.38L258.19,599.11L258.02,598.83L257.84,598.56L257.67,598.28L257.5,598.01L257.32,597.73L257.15,597.46L256.98,597.19L256.8,596.92L256.63,596.65L256.46,596.38L256.28,596.11L256.11,595.84L255.94,595.57L255.77,595.3L255.59,595.04L255.42,594.77L255.25,594.51L255.08,594.24L254.91,593.98L254.74,593.72L254.57,593.46L254.4,593.19L254.23,592.93L254.06,592.67L253.89,592.42L253.72,592.16L253.55,591.9L253.38,591.64L253.21,591.39L253.05,591.13L252.88,590.88L252.71,590.62L252.54,590.37L252.38,590.12L252.21,589.87L252.04,589.62L251.88,589.37L251.71,589.12L251.55,588.87L251.38,588.62L251.22,588.37L251.05,588.13L250.89,587.88L250.72,587.64L250.56,587.39L250.39,587.15L250.23,586.91L250.07,586.67L249.91,586.43L249.74,586.19L249.58,585.95L249.42,585.71L249.26,585.47L249.1,585.23L248.94,585L248.78,584.76L248.62,584.53L248.46,584.29L248.3,584.06L248.14,583.83L247.98,583.59L247.83,583.36L247.67,583.13L247.51,582.9L247.35,582.67L247.2,582.45L247.04,582.22L246.89,581.99L246.73,581.77L246.58,581.54L246.42,581.32L246.27,581.09L246.11,580.87L245.96,580.65L245.81,580.43L245.65,580.21L245.5,579.99L245.35,579.77L245.2,579.55L245.05,579.34L244.9,579.12L244.75,578.9L244.6,578.69L244.45,578.47L244.3,578.26L244.15,578.05L244,577.84L243.86,577.63L243.71,577.42L243.56,577.21L243.42,577L243.27,576.79L243.13,576.58L242.98,576.38L242.84,576.17L242.69,575.97L242.55,575.76L242.41,575.56L242.26,575.36L242.12,575.16L241.98,574.96L241.84,574.76L241.7,574.56L241.56,574.36L241.42,574.16L241.28,573.96L241.14,573.77L241,573.57L240.87,573.38L240.73,573.19L240.59,572.99L240.46,572.8L240.32,572.61L240.18,572.42L240.05,572.23L239.92,572.04L239.78,571.85L239.65,571.67L239.52,571.48L239.38,571.29L239.25,571.11L239.12,570.93L238.99,570.74L238.86,570.56L238.73,570.38L238.6,570.2L238.47,570.02L238.35,569.84L238.22,569.66L238.09,569.48L237.97,569.31L237.84,569.13L237.71,568.96L237.59,568.78L237.47,568.61L237.34,568.44L237.22,568.26L237.1,568.09L236.97,567.92L236.85,567.75L236.73,567.59L236.61,567.42L236.49,567.25L236.37,567.09L236.25,566.92L236.14,566.76L236.02,566.59L235.9,566.43L235.79,566.27L235.67,566.11L235.56,565.95L235.44,565.79L235.33,565.63L235.21,565.47L235.1,565.31L234.99,565.16L234.88,565L234.77,564.85L234.66,564.69L234.55,564.54L234.44,564.39L234.33,564.24L234.22,564.09L234.12,563.94L234.01,563.79L233.9,563.64L233.8,563.49L233.69,563.35L233.59,563.2L233.49,563.06L233.38,562.91L233.28,562.77L233.18,562.63L233.08,562.49L232.98,562.34L232.88,562.21L232.78,562.07L232.68,561.93L232.58,561.79L232.49,561.65L232.39,561.52L232.29,561.38L232.2,561.25L232.1,561.12L232.01,560.99L231.92,560.85L231.82,560.72L231.73,560.59L231.64,560.46L231.55,560.34L231.46,560.21L231.37,560.08L231.28,559.96L231.19,559.83L231.11,559.71L231.02,559.59L230.94,559.46L230.85,559.34L230.77,559.22L230.68,559.1L230.6,558.98L230.52,558.87L230.43,558.75L230.35,558.63L230.27,558.52L230.19,558.4L230.11,558.29L230.04,558.18L229.96,558.06L229.88,557.95L229.8,557.84L229.73,557.73L229.65,557.62L229.58,557.52L229.51,557.41L229.43,557.3L229.36,557.2L229.29,557.09L229.22,556.99L229.15,556.89L229.08,556.79L229.01,556.68L228.94,556.58L228.81,556.39L228.68,556.19L228.55,556L228.43,555.81L228.31,555.63L228.19,555.45L228.07,555.27L227.96,555.1L227.85,554.93L227.74,554.76L227.64,554.59L227.53,554.43L227.44,554.28L227.34,554.12L227.25,553.97L227.16,553.83L227.07,553.68L226.99,553.54L226.91,553.41L226.83,553.27L226.76,553.14L226.69,553.02L226.62,552.9L226.56,552.78L226.49,552.66L226.44,552.55L226.38,552.44L226.3,552.28L226.23,552.13L226.17,551.99L226.11,551.86L226.06,551.73" stroke="#ff80ff" stroke-width="2.2"/>
<path d="M226.06,551.73L226.02,551.61L225.98,551.47L225.94,551.34L225.92,551.19L225.92,551.07L225.94,550.95" stroke="#ff80ff" stroke-width="2.42"/>
<path d="M225.94,550.95L226.02,550.84" stroke="#ff80ff" stroke-width="2.2"/>
<path d="M226.02,550.84L226.13,550.79L226.26,550.78L226.38,550.79L226.53,550.83L226.66,550.87L226.81,550.93L226.93,550.99L227.05,551.05L227.19,551.12L227.33,551.19L227.47,551.28L227.63,551.37L227.74,551.43" stroke="#ff80ff" stroke-width="1.75"/>
<path d="M227.74,551.43L227.85,551.5L227.96,551.58L228.08,551.65L228.2,551.73L228.32,551.82L228.45,551.9L228.58,551.99L228.71,552.09L228.85,552.18L228.99,552.28L229.13,552.39L229.28,552.49L229.43,552.6L229.58,552.72L229.74,552.84L229.9,552.96L230.06,553.08L230.23,553.21L230.4,553.34L230.57,553.47L230.74,553.61L230.92,553.75L231.11,553.9L231.29,554.05L231.38,554.12L231.48,554.2L231.57,554.28L231.67,554.35L231.77,554.43L231.87,554.51L231.96,554.59L232.06,554.68L232.16,554.76L232.27,554.84L232.37,554.93L232.47,555.01L232.57,555.1L232.68,555.18L232.78,555.27L232.89,555.36L233,555.45L233.1,555.54L233.21,555.63L233.32,555.72L233.43,555.81L233.54,555.91L233.65,556L233.77,556.1L233.88,556.19L233.99,556.29L234.11,556.39L234.22,556.48L234.34,556.58L234.46,556.68L234.57,556.79L234.69,556.89L234.81,556.99L234.93,557.09L235.05,557.2L235.17,557.3L235.3,557.41L235.42,557.52L235.54,557.62L235.67,557.73L235.79,557.84L235.92,557.95L236.05,558.06L236.17,558.18L236.3,558.29L236.43,558.4L236.56,558.52L236.69,558.63L236.83,558.75L236.96,558.87L237.09,558.98L237.23,559.1L237.36,559.22L237.5,559.34L237.63,559.46L237.77,559.59L237.91,559.71L238.05,559.83L238.19,559.96L238.33,560.08L238.47,560.21L238.61,560.34L238.75,560.46L238.89,560.59L239.04,560.72L239.18,560.85L239.33,560.99L239.47,561.12L239.62,561.25L239.77,561.38L239.92,561.52L240.07,561.65L240.22,561.79L240.37,561.93L240.52,562.07L240.67,562.21L240.82,562.34L240.98,562.49L241.13,562.63L241.29,562.77L241.44,562.91L241.6,563.06L241.76,563.2L241.92,563.35L242.07,563.49L242.23,563.64L242.39,563.79L242.56,563.94L242.72,564.09L242.88,564.24L243.04,564.39L243.21,564.54L243.37,564.69L243.54,564.85L243.7,565L243.87,565.16L244.04,565.31L244.21,565.47L244.38,565.63L244.55,565.79L244.72,565.95L244.89,566.11L245.06,566.27L245.23,566.43L245.4,566.59L245.58,566.76L245.75,566.92L245.93,567.09L246.11,567.25L246.28,567.42L246.46,567.59L246.64,567.75L246.82,567.92L247,568.09L247.18,568.26L247.36,568.44L247.54,568.61L247.72,568.78L247.91,568.96L248.09,569.13L248.27,569.31L248.46,569.48L248.65,569.66L248.83,569.84L249.02,570.02L249.21,570.2L249.4,570.38L249.59,570.56L249.78,570.74L249.97,570.93L250.16,571.11L250.35,571.29L250.54,571.48L250.74,571.67L250.93,571.85L251.12,572.04L251.32,572.23L251.52,572.42L251.71,572.61L251.91,572.8L252.11,572.99L252.31,573.19L252.51,573.38L252.71,573.57L252.91,573.77L253.11,573.96L253.31,574.16L253.51,574.36L253.72,574.56L253.92,574.76L254.13,574.96L254.33,575.16L254.54,575.36L254.74,575.56L254.95,575.76L255.16,575.97L255.37,576.17L255.58,576.38L255.79,576.58L256,576.79L256.21,577L256.42,577.21L256.63,577.42L256.85,577.63L257.06,577.84L257.27,578.05L257.49,578.26L257.7,578.47L257.92,578.69L258.14,578.9L258.35,579.12L258.57,579.34L258.79,579.55L259.01,579.77L259.23,579.99L259.45,580.21L259.67,580.43L259.89,580.65L260.11,580.87L260.34,581.09L260.56,581.32L260.79,581.54L261.01,581.77L261.24,581.99L261.46,582.22L261.69,582.45L261.91,582.67L262.14,582.9L262.37,583.13L262.6,583.36L262.83,583.59L263.06,583.83L263.29,584.06L263.52,584.29L263.75,584.53L263.98,584.76L264.22,585L264.45,585.23L264.69,585.47L264.92,585.71L265.16,585.95L265.39,586.19L265.63,586.43L265.86,586.67L266.1,586.91L266.34,587.15L266.58,587.39L266.82,587.64L267.06,587.88L267.3,588.13L267.54,588.37L267.78,588.62L268.02,588.87L268.27,589.12L268.51,589.37L268.75,589.62L269,589.87L269.24,590.12L269.49,590.37L269.73,590.62L269.98,590.88L270.23,591.13L270.47,591.39L270.72,591.64L270.97,591.9L271.22,592.16L271.47,592.42L271.72,592.67L271.97,592.93L272.22,593.19L272.47,593.46L272.72,593.72L272.98,593.98L273.23,594.24L273.48,594.51L273.74,594.77L273.99,595.04L274.25,595.3L274.5,595.57L274.76,595.84L275.02,596.11L275.28,596.38L275.53,596.65L275.79,596.92L276.05,597.19L276.31,597.46L276.57,597.73L276.83,598.01L277.09,598.28L277.35,598.56L277.61,598.83L277.88,599.11L278.14,599.38L278.4,599.66L278.67,599.94L278.93,600.22L279.2,600.5L279.46,600.78L279.73,601.06L279.99,601.34L280.26,601.63L280.53,601.91L280.79,602.2L281.06,602.48L281.33,602.77L281.6,603.05L281.87,603.34L282.14,603.63L282.41,603.92L282.68,604.21L282.95,604.49L283.22,604.79L283.5,605.08L283.77,605.37L284.04,605.66L284.32,605.96L284.59,606.25L284.86,606.54L285.14,606.84L285.42,607.14L285.69,607.43L285.97,607.73L286.24,608.03L286.52,608.33L286.8,608.63L287.08,608.93L287.36,609.23L287.63,609.53L287.91,609.83L288.19,610.14L288.47,610.44L288.75,610.74L289.04,611.05L289.32,611.35L289.6,611.66L289.88,611.97L290.16,612.28L290.45,612.58L290.73,612.89L291.01,613.2L291.3,613.51L291.58,613.83L291.87,614.14L292.15,614.45L292.44,614.76L292.73,615.08L293.01,615.39L293.3,615.71L293.59,616.02L293.88,616.34L294.16,616.66L294.45,616.98L294.74,617.29L295.03,617.61L295.32,617.93L295.61,618.25L295.9,618.57L296.19,618.9L296.49,619.22L296.78,619.54L297.07,619.87L297.36,620.19L297.66,620.52L297.95,620.84L298.24,621.17L298.54,621.5L298.83,621.82L299.13,622.15L299.42,622.48L299.72,622.81L300.01,623.14L300.31,623.47L300.61,623.8L300.9,624.14L301.2,624.47L301.5,624.8L301.8,625.14L302.1,625.47L302.39,625.81L302.69,626.14L302.99,626.48L303.29,626.82L303.59,627.16L303.89,627.49L304.19,627.83L304.5,628.17L304.8,628.51L305.1,628.86L305.4,629.2L305.7,629.54L306.01,629.88L306.31,630.23L306.61,630.57L306.92,630.92L307.22,631.26L307.53,631.61L307.83,631.95L308.14,632.3L308.44,632.65L308.75,633L309.06,633.35L309.36,633.7L309.67,634.05L309.98,634.4L310.28,634.75L310.59,635.1L310.9,635.46L311.21,635.81L311.52,636.16L311.83,636.52L312.14,636.87L312.45,637.23L312.76,637.59L313.07,637.94L313.38,638.3L313.69,638.66L314,639.02L314.31,639.38L314.62,639.74L314.94,640.1L315.25,640.46L315.56,640.82L315.88,641.19L316.19,641.55L316.5,641.91L316.82,642.28L317.13,642.64L317.45,643.01L317.76,643.37L318.08,643.74L318.39,644.11L318.71,644.48L319.02,644.84L319.34,645.21L319.66,645.58L319.97,645.95L320.29,646.32L320.61,646.69L320.93,647.07L321.24,647.44L321.56,647.81L321.88,648.19L322.2,648.56L322.52,648.93L322.84,649.31L323.16,649.69L323.48,650.06L323.8,650.44L324.12,650.82L324.44,651.19L324.76,651.57L325.08,651.95L325.41,652.33L325.73,652.71L326.05,653.09L326.37,653.48L326.7,653.86L327.02,654.24L327.34,654.62L327.67,655.01L327.99,655.39L328.32,655.78L328.64,656.16L328.97,656.55L329.29,656.93L329.62,657.32L329.94,657.71L330.27,658.1L330.59,658.48L330.92,658.87L331.25,659.26L331.57,659.65L331.9,660.04L332.23,660.43L332.56,660.83L332.89,661.22L333.21,661.61L333.54,662L333.87,662.4L334.2,662.79L334.53,663.19L334.86,663.58L335.19,663.98L335.52,664.38L335.85,664.77L336.18,665.17L336.51,665.57L336.84,665.97L337.18,666.37L337.51,666.77L337.84,667.17L338.17,667.57L338.51,667.97L338.84,668.37L339.17,668.77L339.51,669.17L339.84,669.58L340.17,669.98L340.51,670.38L340.84,670.79L341.18,671.19L341.51,671.6L341.85,672.01L342.19,672.41L342.52,672.82L342.86,673.23L343.2,673.64L343.53,674.04L343.87,674.45L344.21,674.86L344.55,675.27L344.88,675.68L345.22,676.09L345.56,676.51L345.9,676.92L346.24,677.33L346.58,677.74L346.92,678.16L347.26,678.57L347.6,678.98L347.94,679.4L348.28,679.82L348.62,680.23L348.97,680.65L349.31,681.06L349.65,681.48L349.99,681.9L350.34,682.32L350.68,682.74L351.02,683.15L351.37,683.57L351.71,683.99L352.06,684.41L352.4,684.84L352.75,685.26L353.09,685.68L353.44,686.1L353.79,686.52L354.13,686.95L354.48,687.37L354.83,687.79L355.18,688.22L355.53,688.64L355.87,689.07L356.22,689.5L356.57,689.92L356.92,690.35L357.27,690.78L357.62,691.2L357.97,691.63L358.33,692.06L358.68,692.49L359.03,692.92L359.38,693.35L359.73,693.78L360.09,694.21L360.44,694.64L360.79,695.07L361.15,695.5L361.5,695.94L361.86,696.37L362.22,696.8L362.57,697.24L362.93,697.67L363.29,698.1L363.64,698.54L364,698.97L364.36,699.41L364.72,699.85L365.08,700.28L365.44,700.72L365.8,701.16L366.16,701.59L366.52,702.03L366.88,702.47L367.24,702.91L367.61,703.35L367.97,703.79L368.33,704.23L368.7,704.67L369.06,705.11L369.43,705.55L369.79,705.99L370.16,706.44L370.53,706.88L370.9,707.32L371.26,707.77L371.63,708.21L372,708.65L372.37,709.1L372.74,709.54L373.11,709.99L373.49,710.43L373.86,710.88L374.23,711.33L374.6,711.77L374.98,712.22L375.35,712.67L375.73,713.12L376.11,713.56L376.48,714.01L376.86,714.46L377.24,714.91L377.62,715.36L378,715.81L378.38,716.26L378.76,716.71L379.14,717.16L379.53,717.61L379.91,718.07L380.29,718.52L380.68,718.97L381.07,719.42L381.45,719.88L381.84,720.33L382.23,720.79L382.62,721.24L383.01,721.69L383.4,722.15L383.79,722.6L384.19,723.06L384.58,723.52L384.98,723.97L385.37,724.43L385.77,724.89L386.17,725.34L386.57,725.8L386.97,726.26L387.37,726.72L387.77,727.18L388.17,727.64L388.58,728.1L388.98,728.56L389.39,729.02L389.8,729.48L390.21,729.94L390.62,730.4L391.03,730.86L391.44,731.32L391.85,731.78L392.27,732.24L392.69,732.71L393.1,733.17L393.52,733.63L393.94,734.1L394.37,734.56L394.79,735.02L395.21,735.49L395.64,735.95L396.07,736.42L396.5,736.88L396.93,737.35L397.36,737.82L397.79,738.28L398.23,738.75L398.66,739.21L399.1,739.68L399.54,740.15L399.99,740.62L400.43,741.08L400.87,741.55L401.32,742.02L401.77,742.49L402.22,742.96L402.67,743.43L403.13,743.9L403.59,744.37L404.04,744.84L404.51,745.31L404.97,745.78L405.43,746.25L405.9,746.72L406.37,747.19L406.84,747.67L407.32,748.14L407.79,748.61L408.27,749.08L408.75,749.56L409.23,750.03L409.72,750.5L410.21,750.98L410.7,751.45L411.19,751.92L411.69,752.4L412.19,752.87L412.69,753.35L413.2,753.82L413.7,754.3L414.21,754.77L414.73,755.25L415.24,755.73L415.76,756.2L416.29,756.68L416.81,757.16L417.34,757.63L417.87,758.11L418.41,758.59L418.95,759.06L419.49,759.54L420.04,760.02L420.59,760.5L421.15,760.98L421.7,761.46L422.27,761.94L422.83,762.42L423.4,762.9L423.98,763.37L424.56,763.85L425.14,764.34L425.73,764.82L426.32,765.3L426.92,765.78L427.52,766.26L428.13,766.74L428.74,767.22L429.35,767.7L429.98,768.18L430.6,768.67L431.23,769.15L431.87,769.63L432.52,770.11L433.17,770.6L433.82,771.08L434.48,771.56L435.15,772.05L435.82,772.53L436.5,773.01L437.19,773.5L437.88,773.98L438.58,774.47L439.29,774.95L440.01,775.44L440.73,775.92L441.46,776.41L442.19,776.89L442.94,777.38L443.69,777.86L444.45,778.35L445.22,778.83" stroke="#ff80ff" stroke-width="1.95"/>
<path d="M445.22,778.83L446,779.32L446.79,779.81L447.59,780.29L448.39,780.78L449.21,781.27L450.03,781.75L450.87,782.24L451.71,782.73L452.57,783.22L453.44,783.7L454.32,784.19L455.21,784.68L456.11,785.17L457.02,785.66L457.95,786.14L458.89,786.63L459.84,787.12L460.8,787.61L461.78,788.1L462.77,788.59L463.78,789.08L464.8,789.57L465.84,790.06L466.9,790.55L467.96,791.04L469.05,791.53L470.16,792.02L471.28,792.51L472.42,793L473.58,793.49L474.75,793.98L475.95,794.47L477.17,794.96L478.41,795.45L479.67,795.94L480.95,796.43L482.26,796.92L483.59,797.42L484.95,797.91L486.33,798.4L487.74,798.89L489.17,799.38L490.64,799.87L492.13,800.37L493.65,800.86L495.21,801.35L496.8,801.84L498.42,802.34L500.07,802.83L501.76,803.32L503.49,803.81L505.26,804.31L507.06,804.8L508.91,805.29L510.8,805.79L512.74,806.28L514.73,806.77L516.76,807.27L518.84,807.76L520.98,808.25L523.17,808.75L525.41,809.24L527.72,809.73L530.09,810.23L532.52,810.72L535.03,811.22L537.6,811.71L540.25,812.2L542.97,812.7L545.77,813.19L548.66,813.69L551.64,814.18L554.71,814.68L557.88,815.17L561.16,815.66L564.54,816.16L568.04,816.65L571.65,817.15L575.4,817.64L579.27,818.14L583.29,818.63L587.46,819.13L591.78,819.62L596.28,820.12L600.95,820.61L605.81,821.11L610.87,821.6L616.15,822.1L621.65,822.59L627.4,823.09L633.41,823.58L639.7,824.08L646.29,824.58L653.2,825.07L660.46,825.57L668.09,826.06L676.13,826.56" stroke="#ff80ff" stroke-width="1.75"/>
<path d="M57.33,823.25L65.27,822.76L72.8,822.28L79.97,821.79L86.78,821.3L93.27,820.81L99.46,820.32L105.38,819.84L111.03,819.35L116.43,818.86L121.61,818.37L126.57,817.88L131.33,817.4L135.9,816.91L140.29,816.42L144.51,815.93L148.57,815.45L152.48,814.96L156.25,814.47L159.88,813.98L163.38,813.5L166.76,813.01L170.03,812.52L173.19,812.03L176.24,811.55L179.19,811.06L182.05,810.57L184.81,810.09L187.49,809.6L190.09,809.11L192.61,808.63L195.05,808.14L197.42,807.65L199.72,807.17L201.95,806.68L204.12,806.19L206.23,805.71L208.28,805.22L210.27,804.74L212.21,804.25L214.09,803.77L215.93,803.28L217.71,802.79L219.45,802.31L221.15,801.82L222.8,801.34L224.41,800.85L225.97,800.37L227.5,799.88L228.99,799.4L230.45,798.91L231.87,798.43L233.25,797.94L234.6,797.46L235.92,796.98L237.21,796.49L238.47,796.01L239.7,795.52L240.9,795.04L242.07,794.56L243.22,794.07L244.34,793.59L245.44,793.11L246.51,792.62L247.56,792.14L248.58,791.66L249.58,791.17L250.56,790.69L251.52,790.21L252.46,789.73L253.38,789.24L254.28,788.76L255.16,788.28L256.02,787.8L256.86,787.32L257.68,786.83L258.49,786.35L259.28,785.87L260.06,785.39" stroke="#55cc70" stroke-width="1.75"/>
<path d="M260.06,785.39L260.82,784.91L261.56,784.43L262.29,783.95L263,783.47L263.7,782.99L264.39,782.51L265.06,782.03L265.72,781.55L266.36,781.07L266.99,780.59L267.61,780.11L268.22,779.63L268.81,779.15L269.39,778.67L269.96,778.19L270.52,777.71L271.07,777.24L271.61,776.76L272.13,776.28L272.65,775.8L273.16,775.32L273.65,774.85L274.14,774.37L274.61,773.89L275.08,773.41L275.54,772.94L275.99,772.46L276.43,771.98L276.86,771.51L277.28,771.03L277.7,770.56L278.1,770.08L278.5,769.61L278.89,769.13L279.27,768.66L279.65,768.18" stroke="#55cc70" stroke-width="1.95"/>
<path d="M279.65,768.18L280.01,767.71L280.37,767.23L280.72,766.76L281.07,766.28L281.41,765.81L281.74,765.34L282.06,764.86L282.38,764.39L282.69,763.92L283,763.44L283.29,762.97L283.59,762.5L283.87,762.03L284.15,761.56L284.42,761.08L284.69,760.61L284.95,760.14L285.21,759.67L285.46,759.2L285.71,758.73L285.95,758.26L286.18,757.79L286.41,757.32L286.63,756.85L286.85,756.38L287.07,755.91L287.27,755.44L287.48,754.97L287.68,754.51L287.87,754.04L288.06,753.57L288.25,753.1L288.43,752.63L288.6,752.17L288.77,751.7L288.94,751.23" stroke="#55cc70" stroke-width="2.2"/>
<path d="M288.94,751.23L289.1,750.77L289.26,750.3L289.42,749.84L289.57,749.37L289.71,748.9L289.86,748.44L289.99,747.97L290.13,747.51L290.26,747.05L290.39,746.58L290.51,746.12L290.63,745.65L290.74,745.19L290.85,744.73L290.96,744.27L291.07,743.8L291.17,743.34L291.27,742.88L291.36,742.42L291.45,741.96L291.54,741.5L291.62,741.03L291.7,740.57L291.78,740.11L291.85,739.65L291.93,739.19L291.99,738.74L292.06,738.28L292.12,737.82L292.18,737.36L292.24,736.9L292.29,736.44L292.34,735.99L292.39,735.53L292.43,735.07L292.47,734.62L292.51,734.16L292.55,733.7L292.58,733.25L292.61,732.79L292.64,732.34L292.67,731.88L292.69,731.43L292.71,730.97L292.73,730.52L292.74,730.07L292.76,729.61L292.77,729.16L292.78,728.71L292.78,728.26L292.78,727.8L292.79,727.35L292.78,726.9L292.78,726.45L292.77,726L292.77,725.55L292.76,725.1L292.74,724.65L292.73,724.2L292.71,723.75L292.69,723.3L292.67,722.86L292.65,722.41L292.62,721.96L292.59,721.51L292.56,721.07L292.53,720.62L292.5,720.17L292.46,719.73L292.42,719.28L292.39,718.84L292.34,718.39L292.3,717.95L292.25,717.5L292.21,717.06L292.16,716.62L292.11,716.17L292.06,715.73L292,715.29L291.94,714.85L291.89,714.41L291.83,713.96L291.77,713.52L291.7,713.08L291.64,712.64L291.57,712.2L291.5,711.76L291.43,711.33L291.36,710.89L291.29,710.45L291.21,710.01L291.14,709.57L291.06,709.14L290.98,708.7L290.9,708.26L290.82,707.83L290.73,707.39L290.65,706.96L290.56,706.52L290.47,706.09L290.38,705.66L290.29,705.22L290.2,704.79L290.1,704.36L290.01,703.92L289.91,703.49L289.81,703.06L289.71,702.63L289.61,702.2L289.51,701.77L289.41,701.34L289.3,700.91L289.2,700.48L289.09,700.05L288.98,699.62L288.87,699.19L288.76,698.77L288.65,698.34L288.53,697.91L288.42,697.49L288.3,697.06L288.18,696.64L288.06,696.21L287.95,695.79L287.82,695.36L287.7,694.94L287.58,694.52L287.45,694.09L287.33,693.67L287.2,693.25L287.08,692.83L286.95,692.41L286.82,691.98L286.69,691.56L286.55,691.14L286.42,690.73L286.29,690.31L286.15,689.89L286.02,689.47L285.88,689.05L285.74,688.64L285.6,688.22L285.46,687.8L285.32,687.39L285.18,686.97L285.04,686.56L284.9,686.14L284.75,685.73L284.61,685.31L284.46,684.9" stroke="#55cc70" stroke-width="2.42"/>
<path d="M284.46,684.9L284.31,684.49L284.16,684.08L284.02,683.66L283.87,683.25L283.71,682.84L283.56,682.43L283.41,682.02L283.26,681.61L283.1,681.2L282.95,680.8L282.79,680.39L282.64,679.98L282.48,679.57L282.32,679.17L282.16,678.76L282,678.35L281.84,677.95L281.68,677.54L281.52,677.14L281.36,676.74L281.2,676.33L281.03,675.93L280.87,675.53L280.7,675.13L280.54,674.73L280.37,674.32L280.2,673.92L280.03,673.52L279.87,673.12L279.7,672.73L279.53,672.33L279.36,671.93L279.19,671.53L279.01,671.14L278.84,670.74L278.67,670.34L278.5,669.95L278.32,669.55L278.15,669.16L277.97,668.76L277.8,668.37L277.62,667.98L277.44,667.59L277.27,667.19L277.09,666.8L276.91,666.41L276.73,666.02L276.55,665.63L276.37,665.24L276.19,664.85L276.01,664.47L275.83,664.08L275.65,663.69L275.46,663.3L275.28,662.92L275.1,662.53L274.91,662.15L274.73,661.76L274.55,661.38L274.36,661L274.18,660.61L273.99,660.23L273.8,659.85L273.62,659.47L273.43,659.09L273.24,658.71L273.05,658.33L272.87,657.95L272.68,657.57L272.49,657.19L272.3,656.81L272.11,656.43L271.92,656.06L271.73,655.68L271.54,655.31L271.35,654.93L271.16,654.56L270.97,654.18L270.77,653.81L270.58,653.44L270.39,653.07L270.2,652.69L270,652.32L269.81,651.95L269.62,651.58L269.42,651.21L269.23,650.84L269.04,650.48L268.84,650.11L268.65,649.74L268.45,649.37L268.26,649.01L268.06,648.64L267.86,648.28L267.67,647.91L267.47,647.55L267.28,647.19L267.08,646.82L266.88,646.46L266.69,646.1L266.49,645.74L266.29,645.38L266.1,645.02L265.9,644.66L265.7,644.3L265.5,643.94L265.3,643.59L265.11,643.23L264.91,642.87L264.71,642.52L264.51,642.16L264.31,641.81L264.11,641.46L263.92,641.1L263.72,640.75L263.52,640.4L263.32,640.05L263.12,639.69L262.92,639.34L262.72,638.99L262.52,638.65L262.32,638.3L262.12,637.95L261.92,637.6L261.72,637.26L261.53,636.91L261.33,636.56L261.13,636.22L260.93,635.87L260.73,635.53L260.53,635.19L260.33,634.85L260.13,634.5L259.93,634.16L259.73,633.82L259.53,633.48L259.33,633.14L259.13,632.8L258.93,632.46L258.73,632.13L258.53,631.79L258.33,631.45L258.13,631.12L257.93,630.78L257.73,630.45L257.53,630.11L257.33,629.78L257.14,629.45L256.94,629.12L256.74,628.79L256.54,628.45L256.34,628.12L256.14,627.8L255.94,627.47L255.74,627.14L255.55,626.81L255.35,626.48L255.15,626.16L254.95,625.83L254.75,625.51L254.55,625.18L254.36,624.86L254.16,624.54L253.96,624.21L253.76,623.89L253.57,623.57L253.37,623.25L253.17,622.93L252.98,622.61L252.78,622.29L252.58,621.97L252.39,621.66L252.19,621.34L252,621.02L251.8,620.71L251.6,620.39L251.41,620.08L251.21,619.77L251.02,619.45L250.82,619.14L250.63,618.83L250.44,618.52L250.24,618.21L250.05,617.9L249.85,617.59L249.66,617.28L249.47,616.97L249.27,616.67L249.08,616.36L248.89,616.06L248.7,615.75L248.51,615.45L248.31,615.14L248.12,614.84L247.93,614.54L247.74,614.24L247.55,613.94L247.36,613.64L247.17,613.34L246.98,613.04L246.79,612.74L246.6,612.44L246.41,612.15L246.22,611.85L246.03,611.55L245.85,611.26L245.66,610.97L245.47,610.67L245.28,610.38L245.1,610.09L244.91,609.8L244.72,609.51L244.54,609.22L244.35,608.93L244.17,608.64L243.98,608.35L243.8,608.06L243.61,607.78L243.43,607.49L243.25,607.21L243.06,606.92L242.88,606.64L242.7,606.36L242.51,606.07L242.33,605.79L242.15,605.51L241.97,605.23L241.79,604.95L241.61,604.67L241.43,604.39L241.25,604.12L241.07,603.84L240.89,603.56L240.71,603.29L240.54,603.01L240.36,602.74L240.18,602.47L240,602.19L239.83,601.92L239.65,601.65L239.48,601.38L239.3,601.11L239.13,600.84L238.95,600.57L238.78,600.31L238.6,600.04L238.43,599.77L238.26,599.51L238.09,599.24L237.91,598.98L237.74,598.72L237.57,598.45L237.4,598.19L237.23,597.93L237.06,597.67L236.89,597.41L236.72,597.15L236.56,596.9L236.39,596.64L236.22,596.38L236.05,596.13L235.89,595.87L235.72,595.62L235.56,595.36L235.39,595.11L235.23,594.86L235.06,594.61L234.9,594.35L234.73,594.1L234.57,593.85L234.41,593.61L234.25,593.36L234.09,593.11L233.93,592.86L233.77,592.62L233.61,592.37L233.45,592.13L233.29,591.89L233.13,591.64L232.97,591.4L232.81,591.16L232.66,590.92L232.5,590.68L232.35,590.44L232.19,590.2L232.04,589.97L231.88,589.73L231.73,589.49L231.57,589.26L231.42,589.02L231.27,588.79L231.12,588.56L230.97,588.32L230.82,588.09L230.67,587.86L230.52,587.63L230.37,587.4L230.22,587.17L230.07,586.95L229.92,586.72L229.78,586.49L229.63,586.27L229.49,586.04L229.34,585.82L229.2,585.6L229.05,585.37L228.91,585.15L228.77,584.93L228.62,584.71L228.48,584.49L228.34,584.27L228.2,584.05L228.06,583.84L227.92,583.62L227.78,583.41L227.64,583.19L227.5,582.98L227.37,582.76L227.23,582.55L227.09,582.34L226.96,582.13L226.82,581.92L226.69,581.71L226.55,581.5L226.42,581.29L226.29,581.08L226.15,580.88L226.02,580.67L225.89,580.47L225.76,580.26L225.63,580.06L225.5,579.86L225.37,579.66L225.25,579.46L225.12,579.26L224.99,579.06L224.86,578.86L224.74,578.66L224.61,578.46L224.49,578.27L224.37,578.07L224.24,577.88L224.12,577.68L224,577.49L223.88,577.3L223.75,577.11L223.63,576.91L223.51,576.72L223.39,576.54L223.28,576.35L223.16,576.16L223.04,575.97L222.92,575.79L222.81,575.6L222.69,575.42L222.58,575.23L222.46,575.05L222.35,574.87L222.24,574.69L222.12,574.51L222.01,574.33L221.9,574.15L221.79,573.97L221.68,573.79L221.57,573.62L221.46,573.44L221.35,573.27L221.25,573.09L221.14,572.92L221.03,572.75L220.93,572.57L220.82,572.4L220.72,572.23L220.61,572.06L220.51,571.9L220.41,571.73L220.31,571.56L220.21,571.39L220.1,571.23L220,571.06L219.91,570.9L219.81,570.74L219.71,570.58L219.61,570.42L219.51,570.25L219.42,570.09L219.32,569.94L219.23,569.78L219.13,569.62L219.04,569.46L218.95,569.31L218.85,569.15L218.76,569L218.67,568.85L218.58,568.69L218.49,568.54L218.4,568.39L218.31,568.24L218.23,568.09L218.14,567.94L218.05,567.8L217.97,567.65L217.88,567.5L217.8,567.36L217.71,567.22L217.63,567.07L217.55,566.93L217.46,566.79L217.38,566.65L217.3,566.51L217.22,566.37L217.14,566.23L217.06,566.09L216.98,565.95L216.91,565.82L216.83,565.68L216.75,565.55L216.68,565.41L216.6,565.28L216.53,565.15L216.45,565.02L216.38,564.89L216.31,564.76L216.24,564.63L216.17,564.5L216.1,564.38L216.03,564.25L215.96,564.12L215.89,564L215.82,563.88L215.75,563.75L215.69,563.63L215.62,563.51L215.56,563.39L215.49,563.27L215.43,563.15L215.36,563.03L215.3,562.92L215.24,562.8L215.18,562.68L215.12,562.57L215.06,562.46L215,562.34L214.94,562.23L214.88,562.12L214.82,562.01L214.77,561.9L214.71,561.79L214.66,561.68L214.6,561.57L214.49,561.36L214.39,561.15L214.29,560.95L214.19,560.75L214.09,560.55L214,560.35L213.9,560.16L213.81,559.97L213.73,559.79L213.64,559.61L213.56,559.43L213.48,559.25L213.41,559.08L213.33,558.91L213.26,558.75L213.2,558.59L213.13,558.43L213.07,558.28L213.01,558.12L212.95,557.98L212.9,557.83L212.84,557.69L212.79,557.55" stroke="#55cc70" stroke-width="2.2"/>
<path d="M212.79,557.55L212.75,557.42L212.7,557.29L212.66,557.16L212.62,557.03L212.58,556.91L212.55,556.8L212.51,556.63L212.47,556.46L212.43,556.31L212.4,556.16L212.38,556.02L212.36,555.89L212.35,555.77L212.35,555.61L212.36,555.47L212.37,555.35L212.41,555.21" stroke="#55cc70" stroke-width="2.42"/>
<path d="M212.41,555.21L212.46,555.09L212.54,554.98" stroke="#55cc70" stroke-width="2.2"/>
<path d="M212.54,554.98L212.65,554.9" stroke="#55cc70" stroke-width="1.95"/>
<path d="M212.65,554.9L212.78,554.85L212.91,554.83L213.05,554.83L213.18,554.85L213.31,554.88L213.46,554.92L213.58,554.96L213.7,555.01L213.83,555.07L213.96,555.14L214.1,555.21L214.25,555.29L214.4,555.38L214.51,555.44L214.61,555.51" stroke="#55cc70" stroke-width="1.75"/>
<path d="M214.61,555.51L214.72,555.58L214.83,555.65L214.95,555.73L215.07,555.81L215.19,555.89L215.31,555.98L215.44,556.07L215.56,556.16L215.69,556.26L215.83,556.36L215.96,556.46L216.1,556.57L216.24,556.68L216.39,556.8L216.53,556.91L216.68,557.03L216.83,557.16L216.99,557.29L217.14,557.42L217.3,557.55L217.46,557.69L217.63,557.83L217.8,557.98L217.97,558.12L218.14,558.28L218.31,558.43L218.49,558.59L218.58,558.67L218.67,558.75L218.76,558.83L218.85,558.91L218.94,559L219.04,559.08L219.13,559.17L219.23,559.25L219.32,559.34L219.42,559.43L219.51,559.52L219.61,559.61L219.71,559.7L219.8,559.79L219.9,559.88L220,559.97L220.1,560.07L220.2,560.16L220.3,560.26L220.41,560.35L220.51,560.45L220.61,560.55L220.72,560.65L220.82,560.75L220.93,560.85L221.03,560.95L221.14,561.05L221.24,561.15L221.35,561.26L221.46,561.36L221.57,561.47L221.68,561.57L221.79,561.68L221.9,561.79L222.01,561.9L222.13,562.01L222.24,562.12L222.35,562.23L222.47,562.34L222.58,562.46L222.7,562.57L222.81,562.68L222.93,562.8L223.05,562.92L223.17,563.03L223.29,563.15L223.4,563.27L223.52,563.39L223.65,563.51L223.77,563.63L223.89,563.75L224.01,563.88L224.14,564L224.26,564.12L224.38,564.25L224.51,564.38L224.64,564.5L224.76,564.63L224.89,564.76L225.02,564.89L225.15,565.02L225.28,565.15L225.41,565.28L225.54,565.41L225.67,565.55L225.8,565.68L225.93,565.82L226.07,565.95L226.2,566.09L226.33,566.23L226.47,566.37L226.6,566.51L226.74,566.65L226.88,566.79L227.02,566.93L227.15,567.07L227.29,567.22L227.43,567.36L227.57,567.5L227.71,567.65L227.86,567.8L228,567.94L228.14,568.09L228.29,568.24L228.43,568.39L228.57,568.54L228.72,568.69L228.87,568.85L229.01,569L229.16,569.15L229.31,569.31L229.46,569.46L229.61,569.62L229.76,569.78L229.91,569.94L230.06,570.09L230.21,570.25L230.37,570.42L230.52,570.58L230.67,570.74L230.83,570.9L230.98,571.06L231.14,571.23L231.3,571.39L231.45,571.56L231.61,571.73L231.77,571.9L231.93,572.06L232.09,572.23L232.25,572.4L232.41,572.57L232.57,572.75L232.74,572.92L232.9,573.09L233.06,573.27L233.23,573.44L233.39,573.62L233.56,573.79L233.73,573.97L233.89,574.15L234.06,574.33L234.23,574.51L234.4,574.69L234.57,574.87L234.74,575.05L234.91,575.23L235.08,575.42L235.25,575.6L235.43,575.79L235.6,575.97L235.78,576.16L235.95,576.35L236.13,576.54L236.3,576.72L236.48,576.91L236.66,577.11L236.84,577.3L237.02,577.49L237.2,577.68L237.38,577.88L237.56,578.07L237.74,578.27L237.92,578.46L238.1,578.66L238.29,578.86L238.47,579.06L238.66,579.26L238.84,579.46L239.03,579.66L239.22,579.86L239.4,580.06L239.59,580.26L239.78,580.47L239.97,580.67L240.16,580.88L240.35,581.08L240.54,581.29L240.73,581.5L240.93,581.71L241.12,581.92L241.31,582.13L241.51,582.34L241.7,582.55L241.9,582.76L242.1,582.98L242.29,583.19L242.49,583.41L242.69,583.62L242.89,583.84L243.09,584.05L243.29,584.27L243.49,584.49L243.7,584.71L243.9,584.93L244.1,585.15L244.3,585.37L244.51,585.6L244.71,585.82L244.92,586.04L245.13,586.27L245.33,586.49L245.54,586.72L245.75,586.95L245.96,587.17L246.17,587.4L246.38,587.63L246.59,587.86L246.8,588.09L247.02,588.32L247.23,588.56L247.44,588.79L247.66,589.02L247.87,589.26L248.09,589.49L248.3,589.73L248.52,589.97L248.74,590.2L248.96,590.44L249.18,590.68L249.4,590.92L249.62,591.16L249.84,591.4L250.06,591.64L250.28,591.89L250.5,592.13L250.73,592.37L250.95,592.62L251.18,592.86L251.4,593.11L251.63,593.36L251.86,593.61L252.08,593.85L252.31,594.1L252.54,594.35L252.77,594.61L253,594.86L253.23,595.11L253.46,595.36L253.69,595.62L253.93,595.87L254.16,596.13L254.39,596.38L254.63,596.64L254.86,596.9L255.1,597.15L255.34,597.41L255.57,597.67L255.81,597.93L256.05,598.19L256.29,598.45L256.53,598.72L256.77,598.98L257.01,599.24L257.25,599.51L257.49,599.77L257.74,600.04L257.98,600.31L258.23,600.57L258.47,600.84L258.72,601.11L258.96,601.38L259.21,601.65L259.46,601.92L259.71,602.19L259.95,602.47L260.2,602.74L260.45,603.01L260.7,603.29L260.96,603.56L261.21,603.84L261.46,604.12L261.71,604.39L261.97,604.67L262.22,604.95L262.48,605.23L262.73,605.51L262.99,605.79L263.25,606.07L263.51,606.36L263.76,606.64L264.02,606.92L264.28,607.21L264.54,607.49L264.8,607.78L265.07,608.06L265.33,608.35L265.59,608.64L265.86,608.93L266.12,609.22L266.38,609.51L266.65,609.8L266.92,610.09L267.18,610.38L267.45,610.67L267.72,610.97L267.99,611.26L268.26,611.55L268.53,611.85L268.8,612.15L269.07,612.44L269.34,612.74L269.61,613.04L269.89,613.34L270.16,613.64L270.43,613.94L270.71,614.24L270.98,614.54L271.26,614.84L271.54,615.14L271.82,615.45L272.09,615.75L272.37,616.06L272.65,616.36L272.93,616.67L273.21,616.97L273.49,617.28L273.78,617.59L274.06,617.9L274.34,618.21L274.62,618.52L274.91,618.83L275.19,619.14L275.48,619.45L275.77,619.77L276.05,620.08L276.34,620.39L276.63,620.71L276.92,621.02L277.21,621.34L277.5,621.66L277.79,621.97L278.08,622.29L278.37,622.61L278.66,622.93L278.96,623.25L279.25,623.57L279.54,623.89L279.84,624.21L280.13,624.54L280.43,624.86L280.73,625.18L281.02,625.51L281.32,625.83L281.62,626.16L281.92,626.48L282.22,626.81L282.52,627.14L282.82,627.47L283.12,627.8L283.43,628.12L283.73,628.45L284.03,628.79L284.34,629.12L284.64,629.45L284.95,629.78L285.25,630.11L285.56,630.45L285.86,630.78L286.17,631.12L286.48,631.45L286.79,631.79L287.1,632.13L287.41,632.46L287.72,632.8L288.03,633.14L288.34,633.48L288.66,633.82L288.97,634.16L289.28,634.5L289.6,634.85L289.91,635.19L290.23,635.53L290.54,635.87L290.86,636.22L291.18,636.56L291.49,636.91L291.81,637.26L292.13,637.6L292.45,637.95L292.77,638.3L293.09,638.65L293.41,638.99L293.74,639.34L294.06,639.69L294.38,640.05L294.7,640.4L295.03,640.75L295.35,641.1L295.68,641.46L296.01,641.81L296.33,642.16L296.66,642.52L296.99,642.87L297.31,643.23L297.64,643.59L297.97,643.94L298.3,644.3L298.63,644.66L298.97,645.02L299.3,645.38L299.63,645.74L299.96,646.1L300.3,646.46L300.63,646.82L300.96,647.19L301.3,647.55L301.64,647.91L301.97,648.28L302.31,648.64L302.65,649.01L302.98,649.37L303.32,649.74L303.66,650.11L304,650.48L304.34,650.84L304.68,651.21L305.02,651.58L305.37,651.95L305.71,652.32L306.05,652.69L306.4,653.07L306.74,653.44L307.08,653.81L307.43,654.18L307.78,654.56L308.12,654.93L308.47,655.31L308.82,655.68L309.16,656.06L309.51,656.43L309.86,656.81L310.21,657.19L310.56,657.57L310.91,657.95L311.27,658.33L311.62,658.71L311.97,659.09L312.32,659.47L312.68,659.85L313.03,660.23L313.39,660.61L313.74,661L314.1,661.38L314.45,661.76L314.81,662.15L315.17,662.53L315.53,662.92L315.88,663.3L316.24,663.69L316.6,664.08L316.96,664.47L317.32,664.85L317.69,665.24L318.05,665.63L318.41,666.02L318.77,666.41L319.14,666.8L319.5,667.19L319.86,667.59L320.23,667.98L320.6,668.37L320.96,668.76L321.33,669.16L321.7,669.55L322.06,669.95L322.43,670.34L322.8,670.74L323.17,671.14L323.54,671.53L323.91,671.93L324.28,672.33L324.65,672.73L325.03,673.12L325.4,673.52L325.77,673.92L326.15,674.32L326.52,674.73L326.89,675.13L327.27,675.53L327.65,675.93L328.02,676.33L328.4,676.74L328.78,677.14L329.16,677.54L329.53,677.95L329.91,678.35L330.29,678.76L330.67,679.17L331.05,679.57L331.44,679.98L331.82,680.39L332.2,680.8L332.58,681.2L332.97,681.61L333.35,682.02L333.74,682.43L334.12,682.84L334.51,683.25L334.89,683.66L335.28,684.08L335.67,684.49L336.06,684.9L336.45,685.31L336.83,685.73L337.22,686.14L337.61,686.56L338.01,686.97L338.4,687.39L338.79,687.8L339.18,688.22L339.57,688.64L339.97,689.05L340.36,689.47L340.76,689.89L341.15,690.31L341.55,690.73L341.95,691.14L342.34,691.56L342.74,691.98L343.14,692.41L343.54,692.83L343.94,693.25L344.34,693.67L344.74,694.09L345.14,694.52L345.54,694.94L345.94,695.36L346.35,695.79L346.75,696.21L347.15,696.64L347.56,697.06L347.97,697.49L348.37,697.91L348.78,698.34L349.19,698.77L349.59,699.19L350,699.62L350.41,700.05L350.82,700.48L351.23,700.91L351.64,701.34L352.05,701.77L352.47,702.2L352.88,702.63L353.29,703.06L353.71,703.49L354.12,703.92L354.54,704.36L354.96,704.79L355.37,705.22L355.79,705.66L356.21,706.09L356.63,706.52L357.05,706.96L357.47,707.39L357.89,707.83L358.31,708.26L358.73,708.7L359.16,709.14L359.58,709.57L360.01,710.01L360.43,710.45L360.86,710.89L361.29,711.33L361.71,711.76L362.14,712.2L362.57,712.64L363,713.08L363.43,713.52L363.87,713.96L364.3,714.41L364.73,714.85L365.17,715.29L365.6,715.73L366.04,716.17L366.47,716.62L366.91,717.06L367.35,717.5L367.79,717.95L368.23,718.39L368.67,718.84L369.11,719.28L369.55,719.73L370,720.17L370.44,720.62L370.89,721.07L371.33,721.51L371.78,721.96L372.23,722.41L372.68,722.86L373.13,723.3L373.58,723.75L374.03,724.2L374.49,724.65L374.94,725.1L375.4,725.55L375.85,726L376.31,726.45L376.77,726.9L377.23,727.35L377.69,727.8L378.15,728.26L378.61,728.71L379.08,729.16L379.54,729.61L380.01,730.07L380.48,730.52L380.95,730.97L381.42,731.43L381.89,731.88L382.36,732.34L382.84,732.79L383.31,733.25L383.79,733.7L384.27,734.16L384.75,734.62L385.23,735.07L385.71,735.53L386.19,735.99L386.68,736.44L387.16,736.9L387.65,737.36L388.14,737.82L388.63,738.28L389.12,738.74L389.62,739.19L390.11,739.65L390.61,740.11L391.11,740.57L391.61,741.03L392.11,741.5L392.62,741.96L393.12,742.42L393.63,742.88L394.14,743.34L394.65,743.8L395.16,744.27L395.68,744.73L396.19,745.19L396.71,745.65L397.23,746.12L397.76,746.58L398.28,747.05L398.81,747.51L399.34,747.97L399.87,748.44L400.4,748.9L400.94,749.37L401.48,749.84L402.02,750.3L402.56,750.77L403.11,751.23L403.65,751.7L404.2,752.17L404.76,752.63L405.31,753.1L405.87,753.57L406.43,754.04L406.99,754.51L407.56,754.97L408.13,755.44L408.7,755.91L409.28,756.38L409.85,756.85L410.43,757.32L411.02,757.79L411.61,758.26L412.2,758.73L412.79,759.2L413.39,759.67L413.99,760.14L414.59,760.61L415.2,761.08L415.81,761.56L416.42,762.03L417.04,762.5L417.67,762.97L418.29,763.44L418.92,763.92L419.56,764.39L420.2,764.86L420.84,765.34L421.49,765.81L422.14,766.28L422.8,766.76L423.46,767.23L424.12,767.71L424.79,768.18L425.47,768.66L426.15,769.13L426.84,769.61L427.53,770.08L428.22,770.56L428.93,771.03L429.63,771.51L430.35,771.98L431.07,772.46L431.79,772.94L432.52,773.41L433.26,773.89L434,774.37L434.76,774.85L435.51,775.32" stroke="#55cc70" stroke-width="1.95"/>
<path d="M435.51,775.32L436.28,775.8L437.05,776.28L437.83,776.76L438.61,777.24L439.41,777.71L440.21,778.19L441.02,778.67L441.84,779.15L442.66,779.63L443.5,780.11L444.34,780.59L445.19,781.07L446.05,781.55L446.92,782.03L447.8,782.51L448.69,782.99L449.59,783.47L450.51,783.95L451.43,784.43L452.36,784.91L453.3,785.39L454.26,785.87L455.23,786.35L456.21,786.83L457.2,787.32L458.2,787.8L459.22,788.28L460.25,788.76L461.3,789.24L462.36,789.73L463.43,790.21L464.52,790.69L465.63,791.17L466.75,791.66L467.89,792.14L469.04,792.62L470.21,793.11L471.4,793.59L472.61,794.07L473.84,794.56L475.09,795.04L476.36,795.52L477.65,796.01L478.96,796.49L480.29,796.98L481.65,797.46L483.03,797.94L484.43,798.43L485.86,798.91L487.32,799.4L488.8,799.88L490.32,800.37L491.86,800.85L493.43,801.34L495.03,801.82L496.66,802.31L498.33,802.79L500.03,803.28L501.77,803.77L503.54,804.25L505.36,804.74L507.21,805.22L509.1,805.71L511.04,806.19L513.02,806.68L515.05,807.17L517.13,807.65L519.25,808.14L521.43,808.63L523.67,809.11L525.96,809.6L528.31,810.09L530.72,810.57L533.2,811.06L535.74,811.55L538.35,812.03L541.04,812.52L543.81,813.01L546.65,813.5L549.58,813.98L552.6,814.47L555.71,814.96L558.92,815.45L562.23,815.93L565.65,816.42L569.18,816.91L572.84,817.4L576.62,817.88L580.53,818.37L584.58,818.86L588.78,819.35L593.14,819.84L597.66,820.32L602.37,820.81L607.26,821.3L612.35,821.79L617.65,822.28L623.18,822.76L628.95,823.25L634.98,823.74L641.28,824.23L647.89,824.72L654.81,825.21L662.08,825.69L669.72,826.18L677.75,826.67" stroke="#55cc70" stroke-width="1.75"/>
<path d="M58.28,823.22L66.58,822.71L74.45,822.2L81.91,821.68L88.99,821.17L95.73,820.66L102.14,820.15L108.25,819.64L114.09,819.13L119.66,818.61L124.99,818.1L130.09,817.59L134.98,817.08L139.66,816.57L144.16,816.06L148.48,815.55L152.64,815.03L156.63,814.52L160.48,814.01L164.18,813.5L167.75,812.99L171.2,812.48L174.52,811.97L177.74,811.46L180.84,810.95L183.84,810.44L186.74,809.93L189.55,809.42L192.27,808.91L194.9,808.39L197.46,807.88L199.93,807.37L202.33,806.86L204.66,806.35L206.93,805.84L209.12,805.33L211.26,804.82L213.34,804.32L215.35,803.81L217.32,803.3L219.23,802.79L221.08,802.28L222.89,801.77L224.66,801.26L226.37,800.75L228.04,800.24L229.67,799.73L231.26,799.22L232.81,798.72L234.33,798.21L235.8,797.7L237.24,797.19L238.65,796.68L240.02,796.17L241.36,795.67L242.67,795.16L243.95,794.65L245.2,794.14L246.42,793.64L247.62,793.13L248.79,792.62L249.93,792.12L251.05,791.61L252.14,791.1L253.21,790.6L254.26,790.09L255.29,789.58L256.29,789.08L257.27,788.57L258.24,788.06L259.18,787.56L260.1,787.05L261.01,786.55L261.89,786.04L262.76,785.54L263.62,785.03L264.45,784.53L265.27,784.02" stroke="#ff0000" stroke-width="1.75"/>
<path d="M265.27,784.02L266.07,783.52L266.86,783.01L267.63,782.51L268.39,782L269.13,781.5L269.86,781L270.57,780.49L271.28,779.99L271.96,779.49L272.64,778.98L273.3,778.48L273.95,777.98L274.59,777.48L275.22,776.97L275.84,776.47L276.44,775.97L277.03,775.47L277.62,774.96L278.19,774.46L278.75,773.96L279.3,773.46L279.85,772.96L280.38,772.46L280.9,771.96L281.42,771.46L281.92,770.96L282.42,770.46L282.91,769.96L283.39,769.46L283.86,768.96L284.32,768.46L284.78,767.96L285.23,767.46L285.67,766.96L286.1,766.46L286.52,765.97L286.94,765.47L287.35,764.97L287.75,764.47L288.15,763.98" stroke="#ff0000" stroke-width="1.95"/>
<path d="M288.15,763.98L288.54,763.48L288.92,762.98L289.3,762.48L289.67,761.99L290.04,761.49L290.39,761L290.75,760.5L291.09,760L291.43,759.51L291.77,759.01L292.1,758.52L292.42,758.02L292.74,757.53L293.05,757.04L293.36,756.54L293.66,756.05L293.96,755.55L294.25,755.06L294.54,754.57L294.82,754.07L295.09,753.58L295.37,753.09L295.64,752.6L295.9,752.11L296.16,751.61L296.41,751.12L296.66,750.63L296.91,750.14L297.15,749.65L297.39,749.16L297.62,748.67L297.85,748.18L298.08,747.69L298.3,747.2L298.52,746.71L298.73,746.22L298.94,745.74L299.15,745.25L299.35,744.76L299.55,744.27L299.75,743.79L299.94,743.3L300.13,742.81L300.32,742.33L300.5,741.84L300.68,741.35L300.85,740.87" stroke="#ff0000" stroke-width="2.2"/>
<path d="M300.85,740.87L301.03,740.38L301.19,739.9L301.36,739.41L301.52,738.93L301.68,738.44L301.84,737.96L302,737.48L302.15,736.99L302.3,736.51L302.44,736.03L302.58,735.54L302.72,735.06L302.86,734.58L303,734.1L303.13,733.62L303.26,733.14L303.38,732.66L303.51,732.18L303.63,731.7L303.75,731.22L303.87,730.74L303.98,730.26L304.09,729.78L304.2,729.3L304.31,728.82L304.41,728.35L304.52,727.87L304.62,727.39L304.71,726.91L304.81,726.44L304.9,725.96L305,725.49L305.09,725.01L305.17,724.54L305.26,724.06L305.34,723.59L305.42,723.11L305.5,722.64L305.58,722.17L305.65,721.69L305.73,721.22L305.8,720.75L305.87,720.27L305.93,719.8L306,719.33L306.06,718.86L306.13,718.39L306.19,717.92L306.24,717.45L306.3,716.98L306.36,716.51L306.41,716.04L306.46,715.57L306.51,715.11L306.56,714.64L306.6,714.17L306.65,713.7L306.69,713.24L306.73,712.77L306.77,712.31L306.81,711.84L306.85,711.37L306.89,710.91L306.92,710.45L306.95,709.98L306.98,709.52L307.01,709.05L307.04,708.59L307.07,708.13L307.09,707.67L307.12,707.21L307.14,706.74L307.16,706.28L307.18,705.82L307.2,705.36L307.22,704.9L307.23,704.44L307.25,703.98L307.26,703.53L307.27,703.07L307.28,702.61L307.29,702.15L307.3,701.7L307.31,701.24L307.31,700.78L307.32,700.33L307.32,699.87L307.32,699.42L307.32,698.96L307.32,698.51L307.32,698.05L307.32,697.6L307.32,697.15L307.31,696.7L307.31,696.24L307.3,695.79L307.29,695.34L307.29,694.89L307.28,694.44L307.26,693.99L307.25,693.54L307.24,693.09L307.23,692.64L307.21,692.2L307.2,691.75L307.18,691.3L307.16,690.85L307.14,690.41L307.12,689.96L307.1,689.52L307.08,689.07L307.06,688.63L307.04,688.18L307.01,687.74L306.99,687.29L306.96,686.85L306.93,686.41L306.91,685.97L306.88,685.53L306.85,685.08L306.82,684.64L306.79,684.2L306.76,683.76L306.72,683.33L306.69,682.89L306.66,682.45L306.62,682.01L306.59,681.57L306.55,681.14L306.51,680.7L306.47,680.26L306.44,679.83L306.4,679.39L306.36,678.96L306.32,678.52L306.27,678.09L306.23,677.66L306.19,677.23L306.15,676.79L306.1,676.36L306.06,675.93L306.01,675.5L305.97,675.07L305.92,674.64L305.87,674.21L305.82,673.78L305.77,673.35L305.73,672.93L305.68,672.5L305.62,672.07L305.57,671.65L305.52,671.22L305.47,670.79L305.42,670.37L305.36,669.95L305.31,669.52L305.25,669.1L305.2,668.68L305.14,668.25L305.09,667.83L305.03,667.41L304.97,666.99L304.92,666.57L304.86,666.15L304.8,665.73L304.74,665.31L304.68,664.89L304.62,664.48L304.56,664.06L304.5,663.64L304.44,663.23L304.37,662.81L304.31,662.4L304.25,661.98L304.18,661.57L304.12,661.15L304.06,660.74L303.99,660.33L303.93,659.92L303.86,659.5L303.79,659.09L303.73,658.68L303.66,658.27L303.59,657.86L303.53,657.46L303.46,657.05L303.39,656.64L303.32,656.23L303.25,655.83L303.18,655.42L303.11,655.02L303.04,654.61L302.97,654.21L302.9,653.8L302.83,653.4L302.76,653L302.68,652.59L302.61,652.19L302.54,651.79L302.47,651.39L302.39,650.99L302.32,650.59L302.25,650.19L302.17,649.8L302.1,649.4L302.02,649L301.95,648.6L301.87,648.21L301.8,647.81L301.72,647.42L301.64,647.02L301.57,646.63L301.49,646.24L301.41,645.85L301.34,645.45L301.26,645.06L301.18,644.67L301.1,644.28L301.03,643.89L300.95,643.5L300.87,643.11L300.79,642.73L300.71,642.34L300.63,641.95L300.55,641.57L300.47,641.18L300.39,640.8L300.31,640.41L300.23,640.03L300.15,639.64L300.07,639.26L299.99,638.88L299.91,638.5L299.83,638.12L299.75,637.74L299.67,637.36L299.58,636.98L299.5,636.6L299.42,636.22L299.34,635.85L299.26,635.47L299.17,635.09L299.09,634.72L299.01,634.34L298.93,633.97L298.84,633.6L298.76,633.22L298.68,632.85L298.59,632.48L298.51,632.11L298.43,631.74L298.34,631.37L298.26,631L298.17,630.63L298.09,630.26L298.01,629.9L297.92,629.53L297.84,629.16L297.75,628.8L297.67,628.43L297.59,628.07L297.5,627.71L297.42,627.34L297.33,626.98L297.25,626.62L297.16,626.26L297.08,625.9L296.99,625.54L296.91,625.18L296.82,624.82L296.74,624.46L296.65,624.1L296.57,623.75L296.48,623.39L296.4,623.04L296.31,622.68L296.23,622.33L296.14,621.98L296.06,621.62L295.97,621.27L295.89,620.92L295.8,620.57L295.72,620.22L295.63,619.87L295.55,619.52L295.46,619.17L295.38,618.83L295.29,618.48L295.21,618.13L295.12,617.79L295.03,617.44L294.95,617.1L294.86,616.75L294.78,616.41L294.69,616.07L294.61,615.73L294.52,615.39L294.44,615.05L294.35,614.71L294.27,614.37L294.18,614.03L294.1,613.69L294.01,613.36L293.93,613.02L293.85,612.69L293.76,612.35L293.68,612.02L293.59,611.68L293.51,611.35L293.42,611.02L293.34,610.69L293.25,610.36L293.17,610.03L293.09,609.7L293,609.37L292.92,609.04L292.83,608.71L292.75,608.39L292.67,608.06L292.58,607.74L292.5,607.41L292.42,607.09L292.33,606.76L292.25,606.44L292.17,606.12L292.08,605.8L292,605.48L291.92,605.16L291.84,604.84L291.75,604.52L291.67,604.21L291.59,603.89L291.51,603.57L291.42,603.26L291.34,602.94L291.26,602.63L291.18,602.32L291.1,602L291.01,601.69L290.93,601.38L290.85,601.07L290.77,600.76L290.69,600.45L290.61,600.14L290.53,599.84L290.45,599.53L290.37,599.22L290.29,598.92L290.21,598.61L290.13,598.31L290.05,598.01L289.97,597.7L289.89,597.4L289.81,597.1L289.73,596.8L289.65,596.5L289.57,596.2L289.49,595.9L289.42,595.61L289.34,595.31L289.26,595.01L289.18,594.72L289.1,594.42L289.03,594.13L288.95,593.84L288.87,593.54L288.79,593.25L288.72,592.96L288.64,592.67L288.56,592.38L288.49,592.09L288.41,591.81L288.34,591.52L288.26,591.23L288.19,590.95L288.11,590.66L288.03,590.38L287.96,590.09L287.89,589.81L287.81,589.53L287.74,589.25L287.66,588.97L287.59,588.69L287.51,588.41L287.44,588.13L287.37,587.85L287.3,587.58L287.22,587.3L287.15,587.03L287.08,586.75L287.01,586.48L286.93,586.21L286.86,585.93L286.79,585.66L286.72,585.39L286.65,585.12L286.58,584.85L286.51,584.58L286.44,584.32L286.37,584.05L286.3,583.78L286.23,583.52L286.16,583.25L286.09,582.99L286.02,582.73L285.95,582.46L285.88,582.2L285.81,581.94L285.75,581.68L285.68,581.42L285.61,581.17L285.54,580.91L285.48,580.65L285.41,580.39L285.34,580.14L285.28,579.89L285.21,579.63L285.14,579.38L285.08,579.13L285.01,578.87L284.95,578.62L284.88,578.37L284.82,578.13L284.76,577.88L284.69,577.63L284.63,577.38L284.56,577.14L284.5,576.89L284.44,576.65L284.38,576.4L284.31,576.16L284.25,575.92L284.19,575.68L284.13,575.44L284.07,575.2L284.01,574.96L283.95,574.72L283.89,574.48L283.83,574.25L283.77,574.01L283.71,573.78L283.65,573.54L283.59,573.31L283.53,573.08L283.47,572.85L283.41,572.62L283.35,572.39L283.3,572.16L283.24,571.93L283.18,571.7L283.13,571.47L283.07,571.25L283.01,571.02L282.96,570.8L282.9,570.57L282.85,570.35L282.79,570.13L282.74,569.91L282.68,569.69L282.63,569.47L282.57,569.25L282.52,569.03L282.47,568.81L282.41,568.6L282.36,568.38L282.31,568.17L282.26,567.95L282.21,567.74L282.15,567.53L282.1,567.32L282.05,567.11L282,566.9L281.95,566.69L281.9,566.48L281.85,566.27L281.8,566.07L281.75,565.86L281.71,565.66L281.66,565.45L281.61,565.25L281.56,565.05L281.51,564.84L281.47,564.64L281.42,564.44L281.37,564.24L281.33,564.05L281.28,563.85L281.24,563.65L281.19,563.46L281.15,563.26L281.1,563.07L281.06,562.87L281.01,562.68L280.97,562.49L280.93,562.3L280.88,562.11L280.84,561.92L280.8,561.73L280.75,561.54L280.71,561.36L280.67,561.17L280.63,560.98L280.59,560.8L280.55,560.62L280.51,560.43L280.47,560.25L280.43,560.07L280.39,559.89L280.35,559.71L280.31,559.53L280.27,559.36L280.24,559.18L280.2,559L280.16,558.83L280.12,558.66L280.09,558.48L280.05,558.31L280.02,558.14L279.98,557.97L279.94,557.8L279.91,557.63L279.88,557.46L279.84,557.29L279.81,557.13L279.77,556.96L279.74,556.8L279.71,556.63L279.67,556.47L279.64,556.31L279.61,556.14L279.58,555.98L279.55,555.82L279.52,555.67L279.49,555.51L279.45,555.35L279.42,555.19L279.4,555.04L279.37,554.88L279.34,554.73L279.31,554.58L279.28,554.42L279.25,554.27L279.22,554.12L279.2,553.97L279.17,553.83L279.14,553.68L279.12,553.53L279.09,553.38L279.07,553.24L279.04,553.09L279.02,552.95L278.99,552.81L278.97,552.67L278.94,552.53L278.92,552.39L278.9,552.25L278.87,552.11L278.85,551.97L278.83,551.83L278.81,551.7L278.78,551.56L278.76,551.43L278.74,551.3L278.72,551.16L278.7,551.03L278.68,550.9L278.66,550.77L278.64,550.64L278.62,550.52L278.61,550.39L278.59,550.26L278.57,550.14L278.55,550.01L278.53,549.89L278.52,549.77L278.5,549.64L278.49,549.52L278.47,549.4L278.45,549.28L278.42,549.05L278.4,548.81L278.37,548.59L278.34,548.36L278.32,548.14L278.3,547.92L278.27,547.7L278.25,547.49L278.24,547.29L278.22,547.08L278.2,546.88L278.19,546.68L278.17,546.49L278.16,546.3L278.15,546.11L278.14,545.93L278.13,545.75L278.13,545.57L278.12,545.4L278.12,545.23L278.12,545.06L278.12,544.9L278.12,544.74L278.12,544.59L278.12,544.44L278.13,544.29L278.13,544.14L278.14,544L278.15,543.86L278.16,543.73L278.17,543.6L278.18,543.47L278.2,543.35L278.22,543.23L278.24,543.06L278.27,542.89L278.3,542.74L278.34,542.59L278.38,542.45L278.42,542.31" stroke="#ff0000" stroke-width="2.42"/>
<path d="M278.42,542.31L278.47,542.19L278.51,542.07L278.57,541.96L278.64,541.83L278.72,541.71" stroke="#ff0000" stroke-width="2.2"/>
<path d="M278.72,541.71L278.8,541.61L278.89,541.52L278.99,541.44" stroke="#ff0000" stroke-width="1.95"/>
<path d="M278.99,541.44L279.12,541.37L279.25,541.32L279.4,541.29L279.52,541.28L279.65,541.29L279.78,541.31L279.92,541.35L280.07,541.4L280.18,541.44L280.29,541.5L280.41,541.56L280.53,541.63" stroke="#ff0000" stroke-width="1.75"/>
<path d="M280.53,541.63L280.66,541.71L280.79,541.8L280.92,541.9L281.05,542L281.19,542.11L281.28,542.19L281.38,542.27L281.47,542.36L281.57,542.45L281.67,542.54L281.77,542.64L281.87,542.74L281.98,542.84L282.08,542.95L282.19,543.06L282.29,543.17L282.4,543.29L282.51,543.41L282.63,543.54L282.74,543.67L282.85,543.8L282.97,543.93L283.09,544.07L283.2,544.21L283.32,544.36L283.45,544.51L283.57,544.66L283.69,544.82" stroke="#ff0000" stroke-width="1.95"/>
<path d="M283.69,544.82L283.82,544.98L283.95,545.15L284.08,545.31L284.21,545.48L284.34,545.66L284.47,545.84L284.6,546.02L284.74,546.2L284.88,546.39L285.02,546.58L285.16,546.78L285.23,546.88L285.3,546.98L285.37,547.08L285.44,547.18L285.51,547.29L285.58,547.39L285.66,547.49L285.73,547.6L285.8,547.7L285.88,547.81L285.95,547.92L286.03,548.03L286.1,548.14L286.18,548.25L286.25,548.36L286.33,548.47L286.4,548.59L286.48,548.7L286.56,548.81L286.64,548.93L286.71,549.05L286.79,549.16L286.87,549.28L286.95,549.4L287.03,549.52L287.11,549.64L287.19,549.77L287.27,549.89L287.35,550.01L287.43,550.14L287.51,550.26L287.59,550.39L287.67,550.52L287.76,550.64L287.84,550.77L287.92,550.9L288.01,551.03L288.09,551.16L288.17,551.3L288.26,551.43L288.34,551.56L288.43,551.7L288.52,551.83L288.6,551.97L288.69,552.11L288.77,552.25L288.86,552.39L288.95,552.53L289.04,552.67L289.13,552.81L289.21,552.95L289.3,553.09L289.39,553.24L289.48,553.38L289.57,553.53L289.66,553.68L289.75,553.83L289.84,553.97L289.94,554.12L290.03,554.27L290.12,554.42L290.21,554.58L290.31,554.73L290.4,554.88L290.49,555.04L290.59,555.19L290.68,555.35L290.78,555.51L290.87,555.67L290.97,555.82L291.06,555.98L291.16,556.14L291.26,556.31L291.35,556.47L291.45,556.63L291.55,556.8L291.65,556.96L291.75,557.13L291.85,557.29L291.94,557.46L292.04,557.63L292.14,557.8L292.25,557.97L292.35,558.14L292.45,558.31L292.55,558.48L292.65,558.66L292.75,558.83L292.86,559L292.96,559.18L293.06,559.36L293.17,559.53L293.27,559.71L293.38,559.89L293.48,560.07L293.59,560.25L293.69,560.43L293.8,560.62L293.9,560.8L294.01,560.98L294.12,561.17L294.23,561.36L294.33,561.54L294.44,561.73L294.55,561.92L294.66,562.11L294.77,562.3L294.88,562.49L294.99,562.68L295.1,562.87L295.21,563.07L295.32,563.26L295.43,563.46L295.55,563.65L295.66,563.85L295.77,564.05L295.88,564.24L296,564.44L296.11,564.64L296.23,564.84L296.34,565.05L296.46,565.25L296.57,565.45L296.69,565.66L296.8,565.86L296.92,566.07L297.04,566.27L297.16,566.48L297.27,566.69L297.39,566.9L297.51,567.11L297.63,567.32L297.75,567.53L297.87,567.74L297.99,567.95L298.11,568.17L298.23,568.38L298.35,568.6L298.47,568.81L298.6,569.03L298.72,569.25L298.84,569.47L298.96,569.69L299.09,569.91L299.21,570.13L299.34,570.35L299.46,570.57L299.59,570.8L299.71,571.02L299.84,571.25L299.96,571.47L300.09,571.7L300.22,571.93L300.35,572.16L300.47,572.39L300.6,572.62L300.73,572.85L300.86,573.08L300.99,573.31L301.12,573.54L301.25,573.78L301.38,574.01L301.51,574.25L301.64,574.48L301.77,574.72L301.91,574.96L302.04,575.2L302.17,575.44L302.31,575.68L302.44,575.92L302.57,576.16L302.71,576.4L302.84,576.65L302.98,576.89L303.11,577.14L303.25,577.38L303.39,577.63L303.52,577.88L303.66,578.13L303.8,578.37L303.94,578.62L304.08,578.87L304.22,579.13L304.35,579.38L304.49,579.63L304.63,579.89L304.77,580.14L304.92,580.39L305.06,580.65L305.2,580.91L305.34,581.17L305.48,581.42L305.63,581.68L305.77,581.94L305.91,582.2L306.06,582.46L306.2,582.73L306.35,582.99L306.49,583.25L306.64,583.52L306.78,583.78L306.93,584.05L307.08,584.32L307.23,584.58L307.37,584.85L307.52,585.12L307.67,585.39L307.82,585.66L307.97,585.93L308.12,586.21L308.27,586.48L308.42,586.75L308.57,587.03L308.72,587.3L308.87,587.58L309.02,587.85L309.18,588.13L309.33,588.41L309.48,588.69L309.64,588.97L309.79,589.25L309.95,589.53L310.1,589.81L310.26,590.09L310.41,590.38L310.57,590.66L310.73,590.95L310.88,591.23L311.04,591.52L311.2,591.81L311.36,592.09L311.51,592.38L311.67,592.67L311.83,592.96L311.99,593.25L312.15,593.54L312.31,593.84L312.48,594.13L312.64,594.42L312.8,594.72L312.96,595.01L313.12,595.31L313.29,595.61L313.45,595.9L313.61,596.2L313.78,596.5L313.94,596.8L314.11,597.1L314.27,597.4L314.44,597.7L314.61,598.01L314.77,598.31L314.94,598.61L315.11,598.92L315.28,599.22L315.45,599.53L315.61,599.84L315.78,600.14L315.95,600.45L316.12,600.76L316.29,601.07L316.47,601.38L316.64,601.69L316.81,602L316.98,602.32L317.15,602.63L317.33,602.94L317.5,603.26L317.67,603.57L317.85,603.89L318.02,604.21L318.2,604.52L318.37,604.84L318.55,605.16L318.73,605.48L318.9,605.8L319.08,606.12L319.26,606.44L319.44,606.76L319.62,607.09L319.79,607.41L319.97,607.74L320.15,608.06L320.33,608.39L320.51,608.71L320.7,609.04L320.88,609.37L321.06,609.7L321.24,610.03L321.42,610.36L321.61,610.69L321.79,611.02L321.98,611.35L322.16,611.68L322.34,612.02L322.53,612.35L322.72,612.69L322.9,613.02L323.09,613.36L323.28,613.69L323.46,614.03L323.65,614.37L323.84,614.71L324.03,615.05L324.22,615.39L324.41,615.73L324.6,616.07L324.79,616.41L324.98,616.75L325.17,617.1L325.36,617.44L325.55,617.79L325.74,618.13L325.94,618.48L326.13,618.83L326.33,619.17L326.52,619.52L326.71,619.87L326.91,620.22L327.1,620.57L327.3,620.92L327.5,621.27L327.69,621.62L327.89,621.98L328.09,622.33L328.29,622.68L328.49,623.04L328.68,623.39L328.88,623.75L329.08,624.1L329.28,624.46L329.48,624.82L329.69,625.18L329.89,625.54L330.09,625.9L330.29,626.26L330.49,626.62L330.7,626.98L330.9,627.34L331.11,627.71L331.31,628.07L331.52,628.43L331.72,628.8L331.93,629.16L332.13,629.53L332.34,629.9L332.55,630.26L332.76,630.63L332.96,631L333.17,631.37L333.38,631.74L333.59,632.11L333.8,632.48L334.01,632.85L334.22,633.22L334.43,633.6L334.65,633.97L334.86,634.34L335.07,634.72L335.28,635.09L335.5,635.47L335.71,635.85L335.92,636.22L336.14,636.6L336.35,636.98L336.57,637.36L336.79,637.74L337,638.12L337.22,638.5L337.44,638.88L337.66,639.26L337.87,639.64L338.09,640.03L338.31,640.41L338.53,640.8L338.75,641.18L338.97,641.57L339.19,641.95L339.42,642.34L339.64,642.73L339.86,643.11L340.08,643.5L340.31,643.89L340.53,644.28L340.75,644.67L340.98,645.06L341.2,645.45L341.43,645.85L341.66,646.24L341.88,646.63L342.11,647.02L342.34,647.42L342.57,647.81L342.79,648.21L343.02,648.6L343.25,649L343.48,649.4L343.71,649.8L343.94,650.19L344.18,650.59L344.41,650.99L344.64,651.39L344.87,651.79L345.11,652.19L345.34,652.59L345.57,653L345.81,653.4L346.04,653.8L346.28,654.21L346.52,654.61L346.75,655.02L346.99,655.42L347.23,655.83L347.46,656.23L347.7,656.64L347.94,657.05L348.18,657.46L348.42,657.86L348.66,658.27L348.9,658.68L349.14,659.09L349.39,659.5L349.63,659.92L349.87,660.33L350.11,660.74L350.36,661.15L350.6,661.57L350.85,661.98L351.09,662.4L351.34,662.81L351.59,663.23L351.83,663.64L352.08,664.06L352.33,664.48L352.58,664.89L352.83,665.31L353.08,665.73L353.33,666.15L353.58,666.57L353.83,666.99L354.08,667.41L354.33,667.83L354.58,668.25L354.84,668.68L355.09,669.1L355.34,669.52L355.6,669.95L355.86,670.37L356.11,670.79L356.37,671.22L356.62,671.65L356.88,672.07L357.14,672.5L357.4,672.93L357.66,673.35L357.92,673.78L358.18,674.21L358.44,674.64L358.7,675.07L358.96,675.5L359.22,675.93L359.49,676.36L359.75,676.79L360.02,677.23L360.28,677.66L360.55,678.09L360.81,678.52L361.08,678.96L361.34,679.39L361.61,679.83L361.88,680.26L362.15,680.7L362.42,681.14L362.69,681.57L362.96,682.01L363.23,682.45L363.5,682.89L363.78,683.33L364.05,683.76L364.32,684.2L364.6,684.64L364.87,685.08L365.15,685.53L365.42,685.97L365.7,686.41L365.98,686.85L366.26,687.29L366.54,687.74L366.82,688.18L367.1,688.63L367.38,689.07L367.66,689.52L367.94,689.96L368.22,690.41L368.51,690.85L368.79,691.3L369.08,691.75L369.36,692.2L369.65,692.64L369.93,693.09L370.22,693.54L370.51,693.99L370.8,694.44L371.09,694.89L371.38,695.34L371.67,695.79L371.96,696.24L372.26,696.7L372.55,697.15L372.84,697.6L373.14,698.05L373.44,698.51L373.73,698.96L374.03,699.42L374.33,699.87L374.63,700.33L374.93,700.78L375.23,701.24L375.53,701.7L375.83,702.15L376.13,702.61L376.44,703.07L376.74,703.53L377.05,703.98L377.35,704.44L377.66,704.9L377.97,705.36L378.28,705.82L378.59,706.28L378.9,706.74L379.21,707.21L379.52,707.67L379.84,708.13L380.15,708.59L380.47,709.05L380.78,709.52L381.1,709.98L381.42,710.45L381.74,710.91L382.06,711.37L382.38,711.84L382.7,712.31L383.03,712.77L383.35,713.24L383.68,713.7L384,714.17L384.33,714.64L384.66,715.11L384.99,715.57L385.32,716.04L385.65,716.51L385.98,716.98L386.32,717.45L386.65,717.92L386.99,718.39L387.33,718.86L387.67,719.33L388.01,719.8L388.35,720.27L388.69,720.75L389.03,721.22L389.38,721.69L389.72,722.17L390.07,722.64L390.42,723.11L390.77,723.59L391.12,724.06L391.48,724.54L391.83,725.01L392.18,725.49L392.54,725.96L392.9,726.44L393.26,726.91L393.62,727.39L393.98,727.87L394.35,728.35L394.71,728.82L395.08,729.3L395.45,729.78L395.82,730.26L396.19,730.74L396.57,731.22L396.94,731.7L397.32,732.18" stroke="#ff0000" stroke-width="2.2"/>
<path d="M397.32,732.18L397.7,732.66L398.08,733.14L398.46,733.62L398.84,734.1L399.23,734.58L399.62,735.06L400,735.54L400.4,736.03L400.79,736.51L401.18,736.99L401.58,737.48L401.98,737.96L402.38,738.44L402.78,738.93L403.19,739.41L403.59,739.9L404,740.38L404.41,740.87L404.83,741.35L405.24,741.84L405.66,742.33L406.08,742.81L406.5,743.3L406.93,743.79L407.36,744.27L407.79,744.76L408.22,745.25L408.65,745.74L409.09,746.22L409.53,746.71L409.97,747.2L410.42,747.69L410.87,748.18L411.32,748.67L411.77,749.16L412.23,749.65L412.69,750.14L413.15,750.63L413.61,751.12L414.08,751.61L414.55,752.11L415.03,752.6L415.51,753.09L415.99,753.58L416.47,754.07L416.96,754.57L417.45,755.06L417.95,755.55L418.45,756.05L418.95,756.54L419.46,757.04L419.97,757.53L420.48,758.02L421,758.52L421.52,759.01L422.05,759.51L422.58,760L423.11,760.5L423.65,761L424.19,761.49L424.74,761.99L425.29,762.48L425.85,762.98L426.41,763.48L426.98,763.98L427.55,764.47L428.13,764.97L428.71,765.47L429.3,765.97L429.89,766.46L430.49,766.96L431.09,767.46L431.7,767.96L432.31,768.46L432.94,768.96L433.56,769.46L434.2,769.96L434.84,770.46L435.48,770.96L436.14,771.46L436.8,771.96L437.47,772.46L438.14,772.96L438.82,773.46L439.51,773.96L440.21,774.46L440.91,774.96L441.62,775.47L442.35,775.97L443.07,776.47L443.81,776.97L444.56,777.48L445.31,777.98L446.08,778.48L446.85,778.98L447.64,779.49L448.43,779.99L449.23,780.49" stroke="#ff0000" stroke-width="1.95"/>
<path d="M449.23,780.49L450.05,781L450.87,781.5L451.71,782L452.55,782.51L453.41,783.01L454.28,783.52L455.16,784.02L456.06,784.53L456.96,785.03L457.88,785.54L458.81,786.04L459.76,786.55L460.72,787.05L461.7,787.56L462.69,788.06L463.69,788.57L464.72,789.08L465.75,789.58L466.81,790.09L467.88,790.6L468.97,791.1L470.08,791.61L471.2,792.12L472.35,792.62L473.51,793.13L474.7,793.64L475.91,794.14L477.14,794.65L478.39,795.16L479.66,795.67L480.96,796.17L482.28,796.68L483.63,797.19L485.01,797.7L486.41,798.21L487.84,798.72L489.3,799.22L490.79,799.73L492.31,800.24L493.86,800.75L495.45,801.26L497.07,801.77L498.72,802.28L500.42,802.79L502.15,803.3L503.92,803.81L505.73,804.32L507.59,804.82L509.49,805.33L511.44,805.84L513.44,806.35L515.48,806.86L517.58,807.37L519.74,807.88L521.95,808.39L524.22,808.91L526.55,809.42L528.95,809.93L531.42,810.44L533.95,810.95L536.56,811.46L539.25,811.97L542.02,812.48L544.87,812.99L547.82,813.5L550.85,814.01L553.99,814.52L557.23,815.03L560.57,815.55L564.03,816.06L567.62,816.57L571.33,817.08L575.17,817.59L579.16,818.1L583.29,818.61L587.59,819.13L592.06,819.64L596.7,820.15L601.54,820.66L606.58,821.17L611.84,821.68L617.33,822.2L623.06,822.71L629.06,823.22L635.35,823.73L641.94,824.24L648.85,824.76L656.13,825.27L663.78,825.78L671.85,826.29L680.36,826.8" stroke="#ff0000" stroke-width="1.75"/>
</g></g>
<path d="M65,440.3V843.8H673.9V440.3Z" fill="none" stroke="#000" stroke-width="1.6"/>
<path d="M65,843.8v-8.2M115.74,843.8v-4.6M166.48,843.8v-8.2M217.22,843.8v-4.6M267.97,843.8v-8.2M318.71,843.8v-4.6M369.45,843.8v-8.2M420.19,843.8v-4.6M470.93,843.8v-8.2M521.67,843.8v-4.6M572.42,843.8v-8.2M623.16,843.8v-4.6M673.9,843.8v-8.2M65,843.8h8.2M65,812.76h4.6M65,781.72h8.2M65,750.68h4.6M65,719.64h8.2M65,688.6h4.6M65,657.56h8.2M65,626.52h4.6M65,595.48h8.2M65,564.44h4.6M65,533.4h8.2M65,502.36h4.6M65,471.32h8.2" stroke="#000" stroke-width="1.5" fill="none"/>
<g font-family='"Liberation Sans", Arial, sans-serif' font-size="20.6" fill="#000" stroke="#000" stroke-width="0.3">
<text transform="translate(65,868.3) scale(1,1.05)" text-anchor="middle">14</text>
<text transform="translate(166.48,868.3) scale(1,1.05)" text-anchor="middle">15</text>
<text transform="translate(267.97,868.3) scale(1,1.05)" text-anchor="middle">16</text>
<text transform="translate(369.45,868.3) scale(1,1.05)" text-anchor="middle">17</text>
<text transform="translate(470.93,868.3) scale(1,1.05)" text-anchor="middle">18</text>
<text transform="translate(572.42,868.3) scale(1,1.05)" text-anchor="middle">19</text>
<text transform="translate(673.9,868.3) scale(1,1.05)" text-anchor="middle">20</text>
<text transform="translate(56.5,850.1) scale(1,1.05)" text-anchor="end">0.0</text>
<text transform="translate(56.5,788.02) scale(1,1.05)" text-anchor="end">0.2</text>
<text transform="translate(56.5,725.94) scale(1,1.05)" text-anchor="end">0.4</text>
<text transform="translate(56.5,663.86) scale(1,1.05)" text-anchor="end">0.6</text>
<text transform="translate(56.5,601.78) scale(1,1.05)" text-anchor="end">0.8</text>
<text transform="translate(56.5,539.7) scale(1,1.05)" text-anchor="end">1.0</text>
<text transform="translate(56.5,477.62) scale(1,1.05)" text-anchor="end">1.2</text>
<text x="369.7" y="895.9" text-anchor="middle" font-size="22.6">Excitation frequency (Hz)</text>
<text transform="translate(16.6,631.5) rotate(-90)" text-anchor="middle" font-size="22.4">Displacement (mm)</text>
<text x="88" y="482" font-size="21.4">(b)</text>
</g>
<rect x="466.4" y="484.8" width="165.9" height="126.0" fill="#fff" stroke="#808080" stroke-width="1"/>
<g font-family='"Liberation Sans", Arial, sans-serif' font-size="17" fill="#000" stroke="#000" stroke-width="0.25">
<circle cx="486.9" cy="496.4" r="4.95" fill="#000" stroke="none"/>
<text x="510.8" y="502.4">Experiment</text>
<path d="M467.6,517H506.8" stroke="#000000" stroke-width="1.55"/>
<text x="510.8" y="523.1">Linear</text>
<path d="M467.6,537.7H506.8" stroke="#0000ff" stroke-width="1.55"/>
<text x="510.8" y="543.8">Duffing</text>
<path d="M467.6,558.5H506.8" stroke="#ff80ff" stroke-width="1.55"/>
<text x="510.8" y="564.6">Cubic function</text>
<path d="M467.6,579.3H506.8" stroke="#55cc70" stroke-width="1.55"/>
<text x="510.8" y="585.4">Quartic function</text>
<path d="M467.6,600H506.8" stroke="#ff0000" stroke-width="1.55"/>
<text x="510.8" y="606.1">Quintic function</text>
</g>
</g>
</svg>
</body></html>
